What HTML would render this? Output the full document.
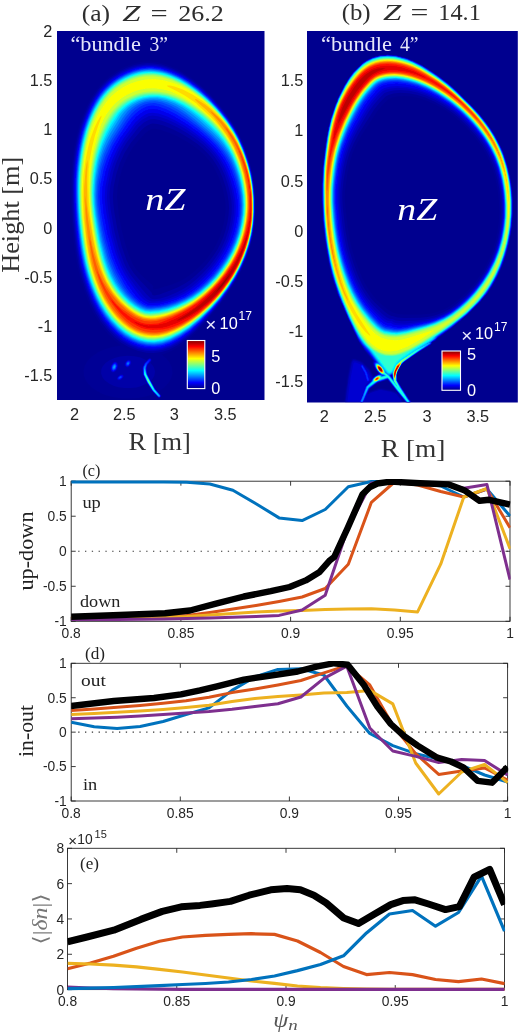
<!DOCTYPE html>
<html lang="en"><head><meta charset="utf-8"><title>figure</title>
<style>html,body{margin:0;padding:0;background:#fff}svg{display:block}</style></head>
<body>
<svg width="520" height="1033" viewBox="0 0 520 1033">
<defs><linearGradient id="jet" x1="0" y1="0" x2="0" y2="1"><stop offset="0.000" stop-color="#800000"/><stop offset="0.062" stop-color="#bf0000"/><stop offset="0.125" stop-color="#ff0000"/><stop offset="0.188" stop-color="#ff4000"/><stop offset="0.250" stop-color="#ff8000"/><stop offset="0.312" stop-color="#ffbf00"/><stop offset="0.375" stop-color="#ffff00"/><stop offset="0.438" stop-color="#bfff40"/><stop offset="0.500" stop-color="#80ff80"/><stop offset="0.562" stop-color="#40ffbf"/><stop offset="0.625" stop-color="#00ffff"/><stop offset="0.688" stop-color="#00bfff"/><stop offset="0.750" stop-color="#0080ff"/><stop offset="0.812" stop-color="#0040ff"/><stop offset="0.875" stop-color="#0000ff"/><stop offset="0.938" stop-color="#0000bf"/><stop offset="1.000" stop-color="#000080"/></linearGradient>
<clipPath id="cA"><rect x="57" y="31" width="207.5" height="369"/></clipPath>
<clipPath id="cB"><rect x="307" y="31" width="210.8" height="371.5"/></clipPath>
<filter id="bl" x="-5%" y="-5%" width="110%" height="110%"><feGaussianBlur stdDeviation="0.7"/></filter>
</defs>
<rect width="520" height="1033" fill="#fff"/>
<rect x="57" y="31" width="207.5" height="369" fill="#00008f"/>
<g clip-path="url(#cA)"><g filter="url(#bl)">
<path fill="#000096" d="M146.1,61.5 150.5,61.4 156.5,62 165.5,64.1 177.5,69 189.5,76.2 199.5,83.9 209.7,93.5 221,106.5 229.9,118.5 236.2,128.5 242.1,140.5 247.1,153.5 251.2,167.5 254.1,182.5 255.1,192.5 255.4,207.5 255.1,220.5 254.1,229.5 252.2,239.5 250.1,247.5 246.1,259.5 242.3,268.5 237.2,278.5 231.9,287.5 224,299.5 217.9,307.5 204.4,323.5 197.5,331.1 190.5,337.7 182.5,344.2 176.5,348.2 169.5,351.8 163.5,354.1 161.6,354.5 166.4,358.5 169.6,362.5 171.8,367.5 172.5,372.5 171.5,377.5 168.9,382.5 164.2,387.5 158.5,391.4 161.4,395.5 161.4,396.5 159.5,398.4 158.5,398.3 153.5,393.9 146.5,396.3 138.5,397.9 130.5,398.6 122.5,398.5 115.5,397.6 108.5,396 102.5,393.9 96.5,390.8 91.8,387.5 87.9,383.5 85.3,379.5 83.9,375.5 83.6,370.5 84.9,365.5 87.9,360.5 92.5,355.9 98.5,352 105.5,349 112.5,347 121.1,345.5 120.5,345.4 120,344.5 114.5,340.2 108.6,334.5 102,326.5 97.3,319.5 92.7,311.5 89.1,303.5 84.9,292.5 81,280.5 77.9,268.5 76,258.5 74,244.5 72.1,225.5 70.9,200.5 70.9,183.5 71.3,172.5 72.1,162.5 73.9,148.5 76.1,137.5 78.9,126.5 82,117.5 86.1,107.5 90.1,99.5 95,91.5 99.6,85.5 105.5,79.5 110.5,75.3 117.5,70.7 124.5,67.1 132.5,64 140.5,62.1ZM151.5,129.1 148.5,130.8 145.5,133.1 137.6,141.5 132.5,148.1 127.5,156.5 122.6,167.5 119.7,177.5 117.5,188.3 117,197.5 118.5,212.5 121.5,229.2 125.4,244.5 129.5,256.7 132.5,263.4 135.5,268.5 140.5,274.3 153.5,286.2 153,287.5 153.5,289.6 158.4,288.5 172.5,284.2 178.5,281.8 183.1,279.5 188.5,275.9 195.3,270.5 204.5,261.4 208.5,256.5 213.5,249.2 216.5,243.9 219.5,237.4 222.5,228.4 224.3,220.5 225.4,212.5 225.6,206.5 225,199.5 223.6,192.5 221.5,185.1 218.5,176.7 213.5,166.6 210.5,162.2 205.5,156.2 199.5,150.5 192.5,145.2 186.7,141.5 177.5,136.5 168.4,132.5 159.5,129.6 154.5,128.7Z"/>
<path fill="#0000a8" d="M142.5,63.5 147.5,63.1 152.5,63.2 161.5,64.6 171.5,67.9 181.5,72.8 192.5,79.9 202.5,88 211.2,96.5 219.1,105.5 226.9,115.5 233,124.5 239.2,135.5 244,146.5 249.1,161.5 252.1,173.5 254,185.5 255.1,199.5 255.1,213.5 254.1,226.5 252.2,237.5 249.9,246.5 245.9,258.5 241.2,269.5 236,279.5 227.9,292.5 220,303.5 206.4,319.5 196.5,330.1 186.5,338.9 177.5,345.3 168.5,349.9 161.5,352.1 153.5,353.1 146.5,352.7 137.5,350.8 128.5,347.1 121.5,342.9 114.5,337.4 107.8,330.5 100.8,321.5 95.9,313.5 90.9,303.5 85.9,290.5 82,278.5 79,266.5 77,255.5 75,240.5 73.1,221.5 72.4,207.5 72.3,178.5 73.1,165.5 74.9,150.5 77.2,138.5 80,127.5 83.8,116.5 88.1,106.5 92.9,97.5 98.3,89.5 103.5,83.5 109.5,78.1 118.5,71.9 126.5,68 134.5,65.1ZM152.5,123.5 150.5,124 147.2,125.5 144.3,127.5 141.1,130.5 131.1,142.5 124.5,153.1 119.7,163.5 116.5,173.5 113.7,186.5 112.9,196.5 113.3,203.5 114.4,212.5 117.5,229.7 121.5,245.7 126.5,260.1 129.5,266.5 133.5,272.8 138.5,278.7 151.5,292.5 152.5,295.1 154.5,295.4 159.4,294.5 169.5,290.8 177.5,287.5 184.9,283.5 189.5,280.4 195.5,275.5 202.5,269 207.5,263.4 213.5,255.5 217.5,249.2 220.5,243.6 223.5,236.5 225.5,230.3 227.5,221.9 228.6,214.5 229,207.5 228.6,201.5 227.5,194.5 225.5,186.5 222.5,177.5 219.5,170.4 216.5,164.9 212.5,159 208.5,154.2 202.8,148.5 197.5,144.1 189.5,138.5 181.1,133.5 173.2,129.5 163.5,125.6 157.5,123.9ZM120.1,356.5 127.5,355.8 134.5,356.3 140.5,357.6 146.5,360.2 149.5,357.7 151,358.5 151.4,359.5 151.4,361.5 150.5,362.5 150.5,363 152.7,365.5 154,367.5 155,371.5 154.4,375.5 153.4,377.5 151.5,380 151.5,381.6 152.4,382.5 152.5,383.6 153.4,384.5 153.5,385.6 154.4,386.5 154.5,387.5 155.5,389 161.2,395.5 161.2,396.5 160.5,397.3 159.5,398.1 158.5,397.8 157.5,397 150.8,389.5 150.5,388.4 148.7,386.5 148.5,385.4 146.5,383.8 141.5,386 136.5,387.4 130.5,388.1 124.5,388.1 118.5,387.2 113.5,385.7 109,383.5 105,380.5 102.6,377.5 101.1,373.5 101.3,369.5 102.6,366.5 105.5,363 109.5,360.2 114.5,358Z"/>
<path fill="#0000bd" d="M146.4,64.5 155.5,64.8 165.5,67 175.5,71 184.5,75.8 193.5,81.9 204.5,91.1 213.8,100.5 223,111.5 231.1,122.5 237.1,132.5 241.9,142.5 246.1,153.5 250.1,166.5 253,180.5 254.1,189.5 254.8,203.5 254.8,211.5 254,224.5 252.1,236.5 248.9,248.5 245.1,259.5 239.2,272.5 233,283.5 225.9,294.5 215.9,307.5 204.3,320.5 194.5,330.4 185.5,338 177.5,343.5 170.5,347.2 162.5,350 153.5,351.2 145.5,350.7 137.5,348.9 128.5,345.1 121.5,340.8 115.5,336 108.2,328.5 102,320.5 95.9,310.5 92,302.5 86.9,289.5 83.1,277.5 79.8,264.5 77,247.5 75,230.5 73.9,216.5 73.3,202.5 73.1,184.5 73.7,171.5 75,157.5 76.9,145.5 79,135.5 82.1,124.5 86.2,113.5 90.8,103.5 96.1,94.5 100.6,88.5 106.5,82.3 113.5,76.7 121.5,71.8 130.5,67.8 137.5,65.8ZM150.5,119.3 147.5,120.4 143.9,122.5 138.5,127.2 126.6,142.5 121.3,151.5 116.3,162.5 113.4,171.5 110.4,185.5 109.6,192.5 109.5,197.5 110.6,209.5 114.5,231.9 118.8,248.5 124.2,263.5 127.2,269.5 130.3,274.5 141.5,288.5 146.7,294.5 150.9,298.5 152.5,299.1 154.5,299.3 160.4,298.5 167,296.5 176.6,292.5 184.2,288.5 190.1,284.5 196.2,279.5 202.5,273.6 209.5,265.9 214.5,259.3 219.5,251.7 222.5,246.1 225.5,239.3 228.5,230.2 230.5,221.5 231.6,213.5 231.8,206.5 231.4,200.5 229.7,191.5 227.6,183.5 224.5,174.6 221.5,167.9 218.5,162.5 214.5,156.8 209.2,150.5 203.5,145 196.5,139.4 187.5,133.2 177.7,127.5 169.3,123.5 161.3,120.5 154.5,119ZM148,359.5 149.5,358.5 150.5,358.7 151.2,359.5 151.2,360.5 147.5,365.1 147,367.5 146.5,368.3 147.4,374.5 148.3,375.5 148.5,376.7 149.3,377.5 150.5,380.6 155.5,389.5 160.9,395.5 160.9,396.5 159.5,397.6 158.5,397.4 151.8,390.5 146.7,382.5 145.5,379.4 144.7,378.5 144.5,377.4 143.7,376.5 143.5,375.3 142.7,374.5 142.7,366.5 143.5,365.4 144,363.5ZM127,360.5 127.5,360 129.5,359.8 130.6,360.5 131.3,362.5 131.2,363.5 130.2,365.5 128.5,367.2 127.5,367.4 126.5,367.3 124.7,365.5 124.8,363.5 125.8,361.5ZM113.1,362.5 114.5,361.7 116.5,361.8 117.9,363.5 118.2,366.5 117.1,369.5 116.3,370.5 114.5,372.2 112.5,372.4 111.1,371.5 110.4,368.5 110.9,365.5ZM119.3,375.5 120.5,374.6 122.5,374.6 123.7,375.5 123.8,376.5 123.3,377.5 121.5,379.3 120.5,380 118.5,380.3 117,379.5 116.8,378.5 117.8,376.5Z"/>
<path fill="#0000d1" d="M145.9,65.5 155.5,65.8 164.5,67.7 173.5,71 183.5,76.1 193.5,82.8 202.5,90.1 211.5,98.8 220,108.5 229.2,120.5 235,129.5 240.2,139.5 244,148.5 248.1,160.5 251,171.5 253.1,182.5 254.4,197.5 254.5,209.5 254.1,221.5 253,230.5 250.1,243.5 245.9,256.5 240.8,268.5 235,279.5 228.1,290.5 220.1,301.5 211.5,311.7 198.5,325.5 188.5,334.4 179.5,341 170.5,345.9 161.5,348.9 153.5,349.9 145.5,349.4 138.5,347.8 130.5,344.7 122.5,339.9 115.5,334.3 109.5,328.2 102.7,319.5 97.1,310.5 92.2,300.5 87.9,289.5 84,277.5 80.9,265.5 78.1,249.5 76.1,233.5 74.8,218.5 74,202.5 73.8,186.5 74.2,174.5 75.2,162.5 77.3,147.5 80,134.5 82.9,124.5 87,113.5 91.8,103.5 95.8,96.5 101.8,88.5 107.5,82.6 114.5,77.1 121.5,72.9 130.5,68.9 137.5,66.8ZM148.5,116.3 142.5,119.5 139.5,121.9 136,125.5 124.5,140.9 118.3,151.5 113.1,163.5 110.4,172.5 107.5,187.5 106.9,198.5 108.6,213.5 112.5,234.5 116.8,250.5 119.5,258.5 122.5,265.8 125.5,271.6 129.5,277.9 136.5,287.5 143,295.5 146,298.5 148.8,300.5 151.5,301.4 154.5,301.5 162.2,300.5 169.1,298.5 176.7,295.5 184.5,291.5 190.6,287.5 196.7,282.5 204.5,275 210.5,268.3 215.7,261.5 220.5,254.3 224.5,247 227.8,239.5 230.5,231.1 232.5,222.5 233.8,213.5 234,205.5 233.3,198.5 231.5,189.6 228.6,179.5 225.9,172.5 223.2,166.5 219.8,160.5 215.5,154.5 210.5,148.7 204.5,142.8 196.5,136.4 186.5,129.5 176.1,123.5 167.5,119.5 159,116.5 152.5,115.5ZM148.4,359.5 149.5,358.8 150.5,359.1 150.9,359.5 150.9,360.5 147.5,364.6 146.5,367.4 146.5,371 147,373.5 150.5,380.9 155.4,389.5 160.6,395.5 160.6,396.5 159.5,397.4 158.5,397.3 152.1,390.5 146.9,382.5 143.1,374.5 142.7,368.5 143.1,366.5 145.3,362.5ZM127.8,360.5 128.5,360.2 129.9,360.5 130.7,361.5 130.7,363.5 129.6,365.5 128.5,366.4 127.5,366.9 126.5,366.8 125.3,365.5 125.3,363.5 126.4,361.5ZM114,362.5 115.5,362 116.5,362.5 117.5,364.5 117.5,366.5 117,368.5 115.7,370.5 113.5,371.9 112.5,371.9 111.1,370.5 110.8,367.5 112,364.5ZM120,375.5 120.5,375.1 122.5,375.1 123,375.5 123.2,376.5 122.9,377.5 121.5,378.9 119.5,379.9 118.5,379.9 117.8,379.5 117.3,378.5 118.5,376.5Z"/>
<path fill="#0000eb" d="M143.5,66.5 151.5,66.2 159.5,67.2 168.5,69.7 178.5,74.1 188.5,80 198.5,87.4 208.5,96.5 217,105.5 225.1,115.5 232.8,126.5 237.9,135.5 242.9,146.5 247.9,160.5 251.1,172.5 253,183.5 254.3,197.5 254.4,211.5 254,220.5 252,234.5 249.9,243.5 246.1,255.5 241.1,267.5 235.8,277.5 229.1,288.5 221.2,299.5 211.1,311.5 199.5,323.7 188.5,333.5 179.5,339.9 170.5,344.9 161.5,347.9 153.5,348.8 145.5,348.3 138.5,346.7 131.5,344 123.5,339.4 116.1,333.5 110.1,327.5 103.8,319.5 98.1,310.5 93.1,300.5 89.1,290.5 85,278.5 81.9,266.5 79,251.5 77.2,237.5 75.7,222.5 74.7,206.5 74.4,188.5 74.7,175.5 75.8,162.5 77.2,151.5 79.9,137.5 82.9,126.5 86.9,115.5 90.9,106.5 96,97.5 101,90.5 106.5,84.6 111.5,80.2 119.5,74.8 127.5,70.9 135.5,68.1ZM148.5,113.3 145.5,114.6 141.5,117 135.3,122.5 123.4,138.5 117.5,148.4 112.3,159.5 108.7,170.5 105.4,186.5 104.7,197.5 105.2,204.5 106.5,214.1 110.6,235.5 115.5,253.3 120.6,266.5 124.1,273.5 127.5,279 134.5,289.1 139.5,295.5 143.5,299.5 146.5,301.6 149.5,302.9 153.5,303.1 160.5,302.4 168.5,300.5 176.7,297.5 184.9,293.5 191.2,289.5 197.5,284.5 204.5,277.8 210.5,271.2 216.5,263.6 221.5,256.1 225.5,249 229.3,240.5 232.5,230.5 234.3,222.5 235.5,214.2 235.8,206.5 235.2,199.5 233.5,190.3 230.5,179.7 227.5,171.6 224.5,165.2 220.5,158.4 216.5,152.9 211.5,147.1 203.5,139.5 194.5,132.5 185.5,126.3 175.5,120.5 166.5,116.3 158.5,113.6 152.5,112.7ZM148.8,359.5 149.5,359 150.5,359.4 150.6,360.5 147.4,364.5 146.5,366.9 146.2,368.5 146.7,373.5 154.5,388.4 160.4,395.5 160.4,396.5 159.5,397.3 158.5,397.2 157.8,396.5 152.3,390.5 147.1,382.5 143.1,373.5 142.9,367.5 144.8,363.5ZM126.8,361.5 128.5,360.5 129.5,360.7 130.3,361.5 130.5,362.5 129.5,365.2 127.5,366.5 126.5,366.3 125.7,365.5 125.5,364.5 126,362.5ZM113.2,363.5 114.5,362.6 115.5,362.5 116.8,363.5 117.3,365.5 117,367.5 116.1,369.5 114.5,371.1 113.5,371.5 112.5,371.3 111.6,370.5 111.1,368.5 111.8,365.5ZM120.5,375.5 121.5,375.2 122.5,375.5 122.9,376.5 122.4,377.5 120.5,379.2 118.5,379.5 117.7,378.5 118,377.5 119.5,376Z"/>
<path fill="#000aff" d="M143.2,67.5 151.5,67.1 160.5,68.3 170.5,71.4 180.5,76.1 191.5,82.9 199.5,89.1 209.5,98.2 218.9,108.5 226.8,118.5 233,127.5 238.1,136.5 243,147.5 247.9,161.5 251,173.5 253.1,185.5 254.1,198.5 254.2,214.5 253.1,226.5 251.2,237.5 249.1,245.5 245,257.5 240.2,268.5 234.9,278.5 227.9,289.5 219.9,300.5 212.2,309.5 200.5,321.7 189.5,331.6 180.5,338.1 171.5,343.2 162.5,346.4 158.5,347.1 153.5,347.6 145.5,347 137.5,345.1 130.5,342.1 123.5,337.9 116.5,332.3 109.9,325.5 103.7,317.5 98.7,309.5 94.1,300.5 88.9,287.5 85,275.5 82.1,263.5 80,252.5 78,237.5 76.1,218.5 75.4,205.5 75.1,190.5 75.4,177.5 76.1,166.5 78,151.5 80,140.5 83.1,128.5 86.9,117.5 90.8,108.5 95.1,100.5 99.8,93.5 105.8,86.5 111.5,81.4 119.5,75.9 127.5,71.9 135.5,69.1ZM148.5,109.4 144.5,111.1 140.5,113.5 136.7,116.5 133.5,119.7 120.5,137.8 114.8,147.5 109.5,159.2 105.6,171.5 102.6,186.5 102,197.5 103.5,212.6 107.5,234.1 112.5,252.6 115.5,261.2 118.5,268.2 122.2,275.5 127.5,284.3 132.4,291.5 136.5,296.5 140.7,300.5 145.3,303.5 148.5,304.7 152.5,304.9 160.5,304.2 167.9,302.5 176.7,299.5 185.3,295.5 191.8,291.5 198.4,286.5 204.9,280.5 211.5,273.5 217.5,265.9 222.5,258.6 226.5,251.6 230.5,243.1 233.5,234.7 236.3,223.5 237.5,215.5 237.9,206.5 237.3,198.5 235.5,189 233.1,180.5 229.5,170.5 226.5,164.1 222.6,157.5 217.5,150.5 213.5,145.9 207,139.5 197.4,131.5 187.5,124.4 177.5,118.2 168.4,113.5 159.5,110.1 153.5,108.9ZM149.3,359.5 149.8,359.5 150.1,360.5 147.1,364.5 146.1,367.5 146.4,373.5 154.5,388.7 160.3,395.5 160.3,396.5 159.5,397.2 158,396.5 153.2,391.5 151.8,389.5 146.8,381.5 143.6,374.5 143.2,367.5 145,363.5ZM127.3,361.5 128.5,360.9 129.5,361.2 130.1,362.5 129.5,364.6 128.5,365.7 127.5,366.1 126.5,365.8 125.9,364.5 126.4,362.5ZM113.9,363.5 115.5,363.1 116,363.5 116.7,364.5 116.9,366.5 115.6,369.5 113.5,370.9 112.5,370.7 111.7,369.5 111.6,367.5 112.2,365.5ZM119.3,376.5 121.5,375.7 122.4,376.5 121.5,378.1 119.5,379.1 118.2,378.5 118.4,377.5Z"/>
<path fill="#0029ff" d="M141.9,68.5 151.5,67.9 160.5,69.1 170.5,72.2 180.5,76.8 189.5,82.3 199.5,89.8 209.5,98.9 219.2,109.5 227.9,120.5 233.8,129.5 239.2,139.5 243.9,150.5 248,162.5 251,174.5 253,186.5 254,198.5 254.1,212.5 253.2,224.5 252,232.5 249.2,244.5 245.2,256.5 240.9,266.5 235.2,277.5 228.9,287.5 221,298.5 213.4,307.5 200.5,321 189.5,330.7 180.5,337.1 174.5,340.6 169.5,343 161.5,345.5 154.5,346.5 146.5,346.1 138.5,344.3 130.5,341 124.5,337.4 117.5,331.9 111.2,325.5 104.8,317.5 99.1,308.5 94.1,298.5 90.1,288.5 86.1,276.5 83,264.5 80.9,253.5 79,240.5 77.1,222.5 76.1,208.5 75.7,192.5 75.9,178.5 76.8,165.5 78.1,154.5 80,143.5 82.9,131.5 86.1,121.5 91.1,109.5 95.3,101.5 100.5,93.7 105.5,87.9 111.5,82.3 119.5,76.8 126.5,73.2 134.5,70.2ZM147.5,106.3 143.5,108 139.4,110.5 135.5,113.6 131.7,117.5 128.5,121.6 117.8,137.5 112.5,146.6 107.1,158.5 103.5,169.8 100.5,184.6 99.8,191.5 99.7,197.5 100.3,205.5 101.5,214.7 103.6,226.5 106.5,239.8 111.5,256.9 117.5,271.4 126.5,287.4 130.1,292.5 134.5,297.5 139,301.5 143.7,304.5 147.5,306 151.5,306.3 160.4,305.5 166.5,304.2 175.1,301.5 184.5,297.4 191.3,293.5 198.2,288.5 205.5,282 212.5,274.7 218.5,267.2 224.5,258.2 228.5,251 232.5,242.1 235.5,233.2 237.5,225.2 239.1,214.5 239.5,205.5 238.9,197.5 237.5,189.5 234.5,178.4 231.5,170.2 228.4,163.5 224.5,156.7 219.5,149.8 215,144.5 207.5,137.2 196.5,128.1 186.1,120.5 176.5,114.5 166.7,109.5 158.5,106.5 152.5,105.6ZM149.2,360.5 149.5,360.3 149.6,360.5 149.5,360.6ZM128.1,361.5 128.5,361.3 129.5,361.9 129.7,363.5 128.5,365.2 127.5,365.7 126.5,365.1 126.3,363.5 126.8,362.5ZM147.5,361.5 148.5,360.7 148.9,361.5 146.8,364.5 145.9,367.5 146.3,373.5 154.5,388.9 160.1,395.5 160.1,396.5 159.5,397.1 158.2,396.5 152,389.5 147,381.5 143.7,374.5 143.4,367.5 145.3,363.5ZM113.3,364.5 114.5,363.7 115.5,363.7 116.5,365.5 115.9,368.5 114.5,370.1 113.5,370.4 112.5,370 111.9,368.5 112.1,366.5ZM119.8,376.5 121.5,376.1 121.9,376.5 121.5,377.7 119.5,378.8 118.8,378.5 118.8,377.5Z"/>
<path fill="#0047ff" d="M140.3,69.5 149.5,68.6 158.5,69.4 167.5,71.8 177.5,75.9 187.5,81.6 197.5,88.8 207.5,97.5 216.5,106.9 226,118.5 232.9,128.5 238,137.5 242.9,148.5 248.1,163.5 250.9,174.5 253,187.5 253.8,198.5 253.9,211.5 253,224.5 251,236.5 249,244.5 245,256.5 240.2,267.5 234.9,277.5 227.9,288.5 219.8,299.5 211.5,309 198.5,322.2 189.5,329.9 179.5,336.9 169.5,342.1 162.5,344.4 154.5,345.6 147.5,345.3 139.5,343.7 132.5,341 125.5,337 118.5,331.7 111.5,324.7 105,316.5 99.9,308.5 95.8,300.5 91.2,289.5 87,277.5 84.1,266.5 82,256.5 80,243.5 78,226.5 76.8,210.5 76.3,195.5 76.3,181.5 77,169.5 78.3,157.5 80.2,145.5 82.9,133.5 86,123.5 89.9,113.5 94.3,104.5 98.6,97.5 103.9,90.5 109.5,84.9 115.5,80.2 124.5,74.9 131.5,71.9ZM148.5,103.4 144.7,104.5 140.5,106.5 135.5,110 131.5,113.7 126.3,120.5 114.5,138.5 111.5,143.8 105.5,156.6 101.5,169.1 98.5,185.5 98,196.5 98.5,205.2 99.7,214.5 101.5,225.5 104.5,239.6 109.5,257.1 115.5,271.8 123.5,286.5 127.8,292.5 132.3,297.5 138,302.5 142.8,305.5 147.5,307.2 151.5,307.4 159.5,306.7 166.5,305.3 175.4,302.5 184.6,298.5 191.6,294.5 198.6,289.5 206.5,282.5 213.5,275.2 219.5,267.7 225.5,258.7 229.5,251.5 233.5,242.5 236.5,233.7 238.5,225.7 240.2,214.5 240.6,205.5 240.1,197.5 238.5,187.6 236.5,179.6 233.5,170.7 230.5,163.8 227.5,158.2 222.5,150.7 217.4,144.5 209.5,136.5 198.5,127.1 188.5,119.4 177.5,112.1 168.9,107.5 161.3,104.5 154.5,103.1ZM127.2,362.5 128.5,361.8 129.4,362.5 129.4,363.5 128.8,364.5 127.5,365.2 126.6,364.5 126.6,363.5ZM147.1,362.5 147.5,362.2 147.7,362.5 147.5,362.8ZM145.8,363.5 146.5,362.9 147,363.5 146.2,365.5 145.6,368.5 146.5,374.2 154.5,389.1 160,395.5 160,396.5 159.5,396.9 158.4,396.5 152.8,390.5 147.1,381.5 143.9,374.5 143.7,367.5ZM113.9,364.5 114.5,364.1 115.5,364.3 116.1,365.5 116.2,366.5 115.5,368.5 114.5,369.6 113.5,369.9 112.5,369.2 112.2,367.5 112.9,365.5ZM120.4,376.5 120.9,376.5 121.2,377.5 119.5,378.2 119.2,377.5Z"/>
<path fill="#0066ff" d="M144.6,69.5 152.5,69.3 162.5,70.9 171.5,73.9 182.5,79.2 191.5,84.9 201.5,92.6 211.5,102 220.9,112.5 227.9,121.5 233.9,130.5 239.2,140.5 243.9,151.5 247.9,163.5 251.1,176.5 252.9,188.5 253.8,201.5 253.7,212.5 252.9,224.5 251.1,235.5 247.9,247.5 244,258.5 239,269.5 234.1,278.5 227,289.5 220.3,298.5 210.5,309.6 198.5,321.6 189.5,329.2 179.5,336.1 170.5,340.9 161.5,343.8 153.5,344.8 145.5,344.2 137.5,342.2 130.5,339.1 123.5,334.7 116.5,328.8 109.7,321.5 103.8,313.5 99,305.5 94.2,295.5 90,284.5 87,275.5 83.9,263.5 81.3,249.5 79.1,232.5 77.8,218.5 76.9,203.5 76.7,188.5 77,175.5 78.1,162.5 80,149.5 82.2,138.5 84.9,128.5 88,119.5 92.8,108.5 97.3,100.5 102.2,93.5 107.5,87.6 113.5,82.4 120.5,77.7 128.5,73.8 136.5,71ZM149.5,101.4 144.5,102.5 139.7,104.5 134.9,107.5 131.3,110.5 125.5,117.4 111.5,139.5 107.5,147.1 104.5,153.8 100.5,165.9 97.6,181.5 96.7,195.5 97.2,204.5 98.5,215.5 102.5,237.6 107.6,256.5 110.5,264.6 114.5,273.7 118.5,281.3 122.5,287.8 126.8,293.5 131.5,298.5 137.5,303.5 142.5,306.5 146.5,308 150.5,308.4 158.5,307.8 165.5,306.5 175.2,303.5 184.5,299.5 191.6,295.5 198.6,290.5 205.6,284.5 213.5,276.5 220.5,267.7 225.5,260.3 230.5,251.3 234.5,242.2 237.5,233.2 239.5,224.9 241.1,214.5 241.5,205.5 240.9,196.5 239.5,187.2 237.5,178.9 234.5,169.6 231.5,162.5 227.5,155.2 222.5,148 217.9,142.5 209.9,134.5 195.5,122.2 186.5,115.3 177.7,109.5 170.2,105.5 162.3,102.5 155.5,101.3ZM127.7,362.5 128.5,362.2 129,363.5 128.5,364.4 127.5,364.8 127,363.5ZM146.5,363.5 146.5,363.5 146.5,363.5ZM145.4,364.5 145.8,364.5 145.9,365.5 145.4,368.5 146.5,374.5 154.5,389.4 159.8,395.5 159.5,396.8 158.5,396.4 152.9,390.5 147.8,382.5 144,374.5 143.7,368.5ZM113.3,365.5 114.5,364.6 115.5,365 115.8,366.5 115,368.5 113.5,369.4 112.7,368.5 112.6,367.5ZM120.1,377.5 120.5,377.3 120.6,377.5 120.5,377.6Z"/>
<path fill="#008aff" d="M141.7,70.5 150.5,69.8 159.5,70.8 168.5,73.3 178.5,77.6 187.5,82.8 197.5,89.9 207.5,98.5 216.2,107.5 225.3,118.5 231.7,127.5 237,136.5 242.1,147.5 246.8,160.5 249.9,171.5 252,182.5 253.4,196.5 253.7,209.5 253,222.5 251.1,234.5 248.9,243.5 245,255.5 240.8,265.5 235,276.5 228.1,287.5 219.9,298.5 211.5,308.1 199.5,320.1 189.5,328.6 180.5,334.8 170.5,340.1 162.5,342.9 154.5,344 147.5,343.8 139.5,342.1 132.5,339.3 125.5,335.2 118.5,329.7 111.5,322.6 105.9,315.5 100.2,306.5 96.2,298.5 91.3,286.5 87.9,276.5 84.9,265.5 82.3,252.5 80.2,237.5 78.6,223.5 77.6,208.5 77.2,193.5 77.3,179.5 78.1,167.5 79.8,153.5 82.2,140.5 84.8,130.5 88.1,120.5 91.9,111.5 96.1,103.5 100.6,96.5 105.5,90.4 111.5,84.7 117.5,80.2 125.5,75.8 133.5,72.5ZM146.5,100.5 140.5,102.4 136.2,104.5 131.7,107.5 127.4,111.5 122.5,118.1 111.5,135.6 107.5,142.9 104.5,149.4 101.8,156.5 98.5,168.8 96.4,182.5 95.8,196.5 96.4,206.5 97.5,215.6 99.5,228.2 102.5,242.8 107.5,260.3 113.5,274.9 117.5,282.4 121.5,288.6 126.1,294.5 131.1,299.5 137.3,304.5 142.5,307.5 146.5,308.9 151.5,309.3 160.5,308.3 168.5,306.5 177.2,303.5 186,299.5 192.9,295.5 199.8,290.5 207.5,283.7 214.5,276.4 221.5,267.5 226.5,259.9 231.5,250.8 235.5,241.4 238.5,232 240.5,223.2 241.8,213.5 242.1,203.5 241.5,194.7 239.5,183.2 237.5,175.5 234.5,166.7 231.5,159.8 227.5,152.6 223.5,146.8 218.2,140.5 210.5,132.8 194.5,118.9 184.6,111.5 176.6,106.5 167.8,102.5 160.7,100.5 153.5,99.8ZM127.4,363.5 128.5,363.1 128.6,363.5 127.5,363.9ZM113.9,365.5 114.5,365.1 115.2,365.5 115.5,366.5 114.6,368.5 113.5,368.8 113,367.5ZM145.4,365.5 145.5,365.2 145.1,368.5 146.4,374.5 154.4,389.5 159.7,395.5 159.5,396.6 158.5,396.2 153,390.5 147.9,382.5 144.1,374.5 144,368.5 144.5,366.5Z"/>
<path fill="#00b3ff" d="M140.4,71.5 148.5,70.6 157.5,71.2 166.5,73.3 176.5,77.3 186.5,82.8 196.5,89.8 206.5,98.2 215.7,107.5 225,118.5 230.7,126.5 236.7,136.5 241.9,147.5 246,158.5 249.9,172.5 252,183.5 253.2,195.5 253.5,207.5 253,220.5 251.9,229.5 249,242.5 245.9,252.5 241,264.5 235.9,274.5 229.1,285.5 221.1,296.5 212.5,306.5 201.5,317.6 189.5,327.8 179.5,334.6 170.5,339.3 162.5,342 154.5,343.1 147.5,342.8 139.5,341.1 132.5,338.3 125.5,334.2 118.5,328.6 111.6,321.5 106.2,314.5 101.1,306.5 96.9,298.5 92.3,287.5 88.8,277.5 85.8,266.5 83.1,253.5 81.1,240.5 79.1,222.5 78.2,209.5 77.7,193.5 77.8,179.5 78.6,167.5 80.1,155.5 82.1,143.5 84.8,132.5 88,122.5 91.7,113.5 95.7,105.5 100.5,97.8 105.5,91.5 111.5,85.6 117.5,81.1 124.5,77.1 132.5,73.7ZM150.5,98.5 144.4,99.5 138.4,101.5 132.7,104.5 128.5,107.5 124.5,111.4 121.5,115.2 110.5,132.8 106.8,139.5 103.5,146.9 99,160.5 96.1,175.5 95.2,184.5 94.8,193.5 95.2,204.5 96.5,216 100.5,239.4 105.5,258.6 108.5,267.2 111.5,274.2 115.5,281.9 119.5,288.1 124.5,294.5 129.3,299.5 135.4,304.5 140.5,307.7 145.5,309.7 150.5,310.3 159.5,309.5 168.5,307.5 177.1,304.5 185.9,300.5 192.8,296.5 200.5,290.9 207.7,284.5 214.5,277.5 220.5,270.1 226.5,261.3 231.5,252.4 235.5,243.4 238.5,234.7 240.6,226.5 242.5,214.5 242.9,205.5 242.5,196.6 241.5,188.9 239.5,179.2 236.5,169 233.5,161.3 229.5,153.3 224.5,145.4 219.5,139.1 212.5,131.9 197.6,118.5 190,112.5 182.5,107.5 175,103.5 166.5,100.3 157.5,98.5ZM113.9,366.5 114.5,366.1 114.8,366.5 114.5,367.7 113.5,367.6ZM144.4,367.5 146.2,374.5 149.3,380.5 154.2,389.5 159.4,395.5 158.5,395.9 153.5,390.9 148,382.5 144.3,374.5Z"/>
<path fill="#00dbff" d="M145.3,71.5 153.5,71.4 163.5,73.1 172.5,76.2 181.5,80.5 191.5,86.7 201.5,94.4 211.5,103.6 220.5,113.5 227.6,122.5 234.2,132.5 239,141.5 244,153.5 248,165.5 250.8,177.5 252.7,190.5 253.3,200.5 253.3,212.5 252.7,222.5 251,233.5 248,245.5 243.8,257.5 238.9,268.5 233.9,277.5 226.8,288.5 219.2,298.5 209.5,309.2 198.5,319.7 188.5,327.9 179.5,333.8 169.5,338.9 161.5,341.3 153.5,342.3 145.5,341.7 138.5,339.9 131.5,336.9 124.5,332.5 117.5,326.6 110.9,319.5 105,311.5 99.7,302.5 95,292.5 91.1,282.5 88,272.5 85,260.5 82.7,247.5 80.2,228.5 79,214.5 78.3,200.5 78.2,185.5 78.7,173.5 79.9,160.5 81.7,148.5 84.1,137.5 86.9,127.5 90.6,117.5 94.7,108.5 99.4,100.5 103.7,94.5 109.3,88.5 115.5,83.3 122.5,78.9 130.5,75.1 138.5,72.6ZM149.5,97.4 143.4,98.5 137.4,100.5 131.5,103.5 127.3,106.5 123,110.5 119.5,114.6 109.5,130.7 105.5,138.4 102.5,145.4 99.5,154.2 97.5,161.8 94.8,178.5 94,194.5 94.4,204.5 95.5,214.9 99.5,239.3 104.5,259.1 107.5,267.7 111.5,276.9 115.5,284.1 119.8,290.5 124.9,296.5 130.1,301.5 135.1,305.5 140.5,308.7 145.5,310.7 150.5,311.2 158.9,310.5 168,308.5 176.7,305.5 185.5,301.5 192.5,297.5 200.8,291.5 208.5,284.7 215.5,277.4 222.5,268.5 227.5,260.9 232.5,251.8 236.5,242.5 239.5,233.4 241.5,225 243.1,214.5 243.5,204.5 242.9,194.5 241.5,185 239.5,176.1 236.5,166.4 232.5,156.9 228.5,149.4 223.5,141.9 218.5,135.7 210.5,127.5 199.3,117.5 190.1,110.5 182.2,105.5 174,101.5 164.8,98.5 157.5,97.3ZM144.4,369.5 144.5,368.9 146,374.5 154,389.5 158.1,394.5 157.5,394.7 153.5,390.7 148.2,382.5 144.4,374.5ZM158.3,395.5 158.5,395 158.9,395.5Z"/>
<path fill="#05fffa" d="M142.9,72.5 151.5,72 160.5,73.1 170.5,76.1 179.5,80.1 189.5,86 200.5,94.1 209.5,102.1 218.5,111.6 225.8,120.5 232.7,130.5 237.8,139.5 242.7,150.5 246.9,162.5 249.8,173.5 252,185.5 253.1,198.5 253.2,210.5 252.6,221.5 250.9,233.5 248.1,244.5 244.8,254.5 240.1,265.5 234.9,275.5 227.9,286.5 218.8,298.5 210.5,307.7 198.5,319.2 188.5,327.2 179.5,333.1 170.5,337.7 162.5,340.3 154.5,341.5 147.5,341.2 140.5,339.7 132.5,336.5 125.5,332.3 119.5,327.5 111.8,319.5 106.5,312.5 100.9,303.5 96.9,295.5 92.1,283.5 88.8,273.5 86,262.5 83.4,248.5 81.3,233.5 79.8,218.5 79,205.5 78.7,190.5 78.9,177.5 79.9,165.5 81.6,152.5 83.7,141.5 86.2,131.5 89.6,121.5 93.9,111.5 98.5,103 103,96.5 107.5,91.2 113.5,85.7 120.5,80.8 127.5,77.2 135.5,74.2ZM149.5,96.4 143.1,97.5 136.9,99.5 130.9,102.5 126.5,105.5 122,109.5 118.4,113.5 110.5,125.7 106.5,133 102.5,142 99.5,150.5 97.5,157.6 95.5,167.1 94.5,174 93.5,184.8 93.2,193.5 93.5,201.7 94.5,212.7 96.5,227.2 98.5,238.5 100.5,247.7 103.5,258.9 106.5,267.8 110.5,277.1 114.5,284.4 118.7,290.5 123.5,296.3 128.7,301.5 134.5,306.1 140.5,309.7 145.5,311.6 150.5,312.1 158.5,311.4 167.3,309.5 176.5,306.4 186.5,301.8 193.7,297.5 200.6,292.5 208.5,285.5 215.5,278.2 222.5,269.4 227.5,261.9 232.5,253 236.5,244 239.5,235.3 242.5,222.6 243.7,213.5 244,204.5 243.5,194.4 241.8,183.5 239.5,173.6 236.5,164.4 232.5,155 228.5,147.6 223.5,140.1 218.5,133.8 210.5,125.5 200.4,116.5 192.5,110.5 182.9,104.5 174.6,100.5 165.2,97.5 157.5,96.3ZM144.5,371.5 144.5,371.2 145.9,374.5 153.5,388.6 153.8,389.5 153.5,390.4 147.3,380.5 144.5,374ZM153.7,390.5 154.5,390.3 155.5,391.5 155.6,392.5Z"/>
<path fill="#2effd1" d="M141.2,73.5 150.5,72.7 158.5,73.4 168.5,76 178.5,80.2 188.5,85.9 198.5,93.1 208.5,101.7 217.5,111 225.5,120.6 231.8,129.5 237,138.5 242.1,149.5 246.7,162.5 249.9,174.5 251.8,185.5 252.9,197.5 253.1,212.5 252.3,223.5 250.9,232.5 248,244.5 243.9,256.5 239.9,265.5 234.1,276.5 227.6,286.5 220.1,296.5 211.5,306.2 200.5,316.9 189.5,325.9 179.5,332.4 170.5,337 162.5,339.6 154.5,340.7 147.5,340.4 140.5,339 133.5,336.2 126.5,332.1 120.5,327.4 113.5,320.4 107.3,312.5 101.6,303.5 97.1,294.5 93.1,284.5 89.4,273.5 86.8,263.5 84.2,250.5 82.2,236.5 80.5,221.5 79.5,207.5 79.1,192.5 79.3,179.5 80.1,168.5 81.5,156.5 83.5,144.8 86.2,133.5 89.5,123.3 93.5,113.6 97.5,105.9 102.2,98.5 107.5,92.1 112.5,87.4 119.1,82.5 126.2,78.5 133.6,75.5ZM149.5,95.5 143.5,96.4 137.5,98.2 132.3,100.5 126.5,104.1 122.3,107.5 117.6,112.5 113.5,118.1 109.6,124.5 105.5,132.2 101.9,140.5 98.5,150.5 96.5,158 94.6,167.5 93.5,176.3 92.6,193.5 93.1,204.5 94.4,217.5 98.5,242 103.5,261.6 106.5,270.1 109.5,277 113.5,284.4 117.6,290.5 122.5,296.5 128.5,302.4 134.5,307.1 140.3,310.5 145.5,312.4 150.5,312.9 158.5,312.2 166.5,310.5 175.5,307.5 186.5,302.5 194.5,297.7 201.5,292.4 209.5,285.3 216.5,277.8 222.5,270.3 228.5,261.2 233.5,252 237.5,242.7 240.5,233.6 242.6,224.5 244.1,214.5 244.6,204.5 244,194.5 242.5,184.1 240.5,175.1 237.5,165.3 233.5,155.5 229.5,147.8 224.5,140 218.5,132.3 211.5,124.9 202.2,116.5 193,109.5 183.2,103.5 174.8,99.5 165.5,96.6 157.5,95.4ZM145.1,374.5 145.5,373.9 146,375.5 151.7,385.5 152,386.5 151.5,387.1 148.5,382.5ZM152.1,387.5 152.5,387.1 152.8,388.5 152.5,388.6ZM153.3,389.5 153.5,389.1 153.5,389.9Z"/>
<path fill="#57ffa8" d="M146.9,73.5 155.5,73.7 164.5,75.4 173.5,78.6 183.4,83.5 192.9,89.5 203.2,97.5 212.5,106.1 221.9,116.5 228.5,125.1 234.6,134.5 239.7,144.5 243.9,154.5 247.8,166.5 250.8,179.5 252.1,188.5 253,201.5 252.9,214.5 251.9,225.5 249.9,236.5 246.9,247.5 242.9,258.5 237.8,269.5 232,279.5 226,288.5 218.1,298.5 209.5,307.8 200.5,316.4 189.5,325.3 179.5,331.8 170.5,336.2 162.5,338.9 153.5,340 145.5,339.4 138.5,337.5 131.5,334.4 124.5,329.8 118.4,324.5 111.5,317 106,309.5 100.7,300.5 96.4,291.5 92.5,281.5 89.4,271.5 86.4,259.5 83.9,245.5 81.6,227.5 80.4,213.5 79.7,198.5 79.7,184.5 80.2,172.5 81.5,160.1 83.5,147.5 85.5,138.3 88.5,127.8 92.4,117.5 96.5,108.9 100.5,102.1 105.5,95.4 111.1,89.5 117.3,84.5 124.5,80.2 132.5,76.6 139.9,74.5ZM151.5,94.4 144.5,95.3 138.5,96.8 132.5,99.3 127.5,102.1 122.9,105.5 118.5,109.7 114.5,114.5 110.5,120.5 106,128.5 102.5,136.2 99.4,144.5 96.5,154.5 94.6,163.5 93.3,171.5 92.4,181.5 92,191.5 92.3,202.5 93.5,215.2 97.5,240.5 99.7,250.5 102.5,260.8 105.5,269.6 108.5,276.7 112.5,284.3 116.7,290.5 121.5,296.5 127.5,302.5 133.5,307.3 139.5,310.9 145.5,313.2 150.5,313.7 158.5,313 167.5,310.9 177.2,307.5 185.8,303.5 194.2,298.5 201,293.5 208.9,286.5 216.5,278.6 222.5,271 228.5,262.1 233.5,253.1 237.5,244 240.5,235.2 243.1,224.5 244.5,214.8 245,205.5 244.7,196.5 243.5,187 241.5,177 238.5,166.5 234.5,156.3 230.5,148.3 225.5,140.1 219.5,132.1 211.5,123.5 202.6,115.5 193.2,108.5 184.5,103.1 175.5,98.8 167.5,96.1 159.5,94.7ZM145.5,374.5 145.6,375.5 145.5,375.7 145.4,375.5ZM146.2,376.5 146.5,376.3 146.9,377.5 146.5,377.9ZM147,378.5 147.5,378.1 150.3,383.5 149.5,383.8 147.5,380.2ZM150.1,384.5 150.5,383.6 150.8,384.5 150.5,385.3ZM151.2,385.5 151.5,385.5 151.5,386.7 151.4,386.5ZM152.4,387.5 152.5,387.5 152.5,387.7Z"/>
<path fill="#80ff80" d="M144.6,74.5 153.5,74.3 161.9,75.5 171.6,78.5 182.2,83.5 193.5,90.5 202.5,97.4 212.5,106.6 220.5,115.3 227.5,124.1 233.5,133.1 238.6,142.5 243.7,154.5 247.6,166.5 250,176.5 251.8,187.5 252.8,200.5 252.9,212.5 251.9,224.5 250,235.5 247.7,244.5 243.9,255.5 239.1,266.5 233.6,276.5 227.1,286.5 219.5,296.5 210.5,306.4 200.5,315.9 189.5,324.7 179.5,331.1 170.5,335.5 162.5,338.1 154.5,339.3 147.5,339 140.5,337.4 133.5,334.6 126.5,330.4 119.3,324.5 112.7,317.5 106.7,309.5 101.9,301.5 97,291.5 93.1,281.5 89.9,271.5 87.1,260.5 84.6,246.5 82.5,231 81.2,217.5 80.3,203.5 80.1,188.5 80.5,176.5 81.5,164.4 83.3,151.5 85.5,140.7 88.5,129.7 91.5,121.3 95.5,112.2 99.5,104.9 103.9,98.5 109,92.5 114.5,87.5 121.8,82.5 129.8,78.5 137.5,75.9ZM152.5,93.5 145.5,94.1 139.5,95.5 133.5,97.7 127.5,100.9 122.5,104.4 118.1,108.5 113.8,113.5 109.7,119.5 105.5,127.1 102.1,134.5 99.1,142.5 96.2,152.5 94.4,160.5 92.8,170.5 91.8,180.5 91.4,190.5 91.6,200.5 92.5,211.5 94.3,225.5 96.5,238.6 99,250.5 101.5,259.8 104.7,269.5 108.5,278.4 112.5,285.6 117.2,292.5 122.4,298.5 128.5,304.3 134.5,308.9 139.5,311.8 144.5,313.7 150.5,314.4 158.5,313.7 167.5,311.7 177.5,308.1 186.5,303.8 194.5,298.9 201.8,293.5 209.5,286.6 216.5,279.2 222.5,271.8 228.5,262.9 233.5,254 237.5,245.1 240.8,235.5 243.5,224.5 244.9,214.5 245.4,205.5 245,195.5 243.6,184.5 241.5,175 238.5,164.9 234.5,154.9 230.5,147 225.5,138.9 219.5,130.9 212.5,123.3 204,115.5 194.7,108.5 185.5,102.6 176.5,98.2 168.5,95.5 160.5,93.9ZM147.4,378.5 147.7,379.5 147.5,379.8 147.4,379.5ZM148.2,380.5 148.5,380.2 148.9,381.5 148.5,381.9ZM149.1,382.5 149.5,382.2 149.7,383.5 149.5,383.5ZM150.4,384.5 150.5,384.2 150.5,384.8Z"/>
<path fill="#a8ff57" d="M143.9,75.5 152.5,75.1 161.5,76.3 172.1,79.5 180.8,83.5 189.5,88.5 200.6,96.5 210.5,105.2 219.5,114.6 227.5,124.5 233.5,133.5 238.5,142.8 242.7,152.5 246.6,163.5 249.7,175.5 251.7,187.5 252.7,200.5 252.7,212.5 251.9,223.5 249.9,235.5 247.5,244.5 243.8,255.5 238.9,266.5 233.5,276.4 226.9,286.5 219.5,296.2 210.5,306 199.5,316.3 189.5,324.2 180.5,329.9 170.5,334.9 162.5,337.4 154.5,338.5 147.5,338.2 139.9,336.5 132.9,333.5 126.5,329.5 120.3,324.5 113.5,317.4 107.5,309.6 102.5,301.4 97.6,291.5 93.5,281 90.4,271.5 87.5,259.7 85.4,248.5 83.4,234.5 81.6,216.5 80.9,204.5 80.6,190.5 80.9,178.5 81.6,168.5 83.5,154 85.5,143.4 88.5,131.8 91.5,123.1 95.5,113.8 99.5,106.3 104.5,98.9 109.5,93.2 114.6,88.5 120.2,84.5 127.5,80.5 135.2,77.5ZM152.5,92.5 146.5,92.9 140.5,94.1 134.5,96.1 127.5,99.6 122.5,103 117.4,107.5 113.1,112.5 108.9,118.5 105,125.5 101,134.5 98.1,142.5 95.3,152.5 93.2,162.5 92,170.5 91.1,180.5 90.8,190.5 91,200.5 92,212.5 93.7,225.5 96.2,240.5 98.5,251 101.5,262 104.4,270.5 107.8,278.5 112.2,286.5 116.4,292.5 121.5,298.6 127.6,304.5 133.5,309 139.5,312.6 144.8,314.5 150.5,315.2 158.5,314.5 167.5,312.4 177.5,308.7 186.5,304.4 194.5,299.5 202.5,293.5 210.2,286.5 216.8,279.5 223.5,271.1 229.5,262.1 234.5,252.9 238.5,243.7 241.5,234.5 243.7,225.5 245.2,215.5 245.8,205.5 245.4,195.5 244,184.5 241.6,173.5 238.5,163.5 234.5,153.6 230.5,145.8 225.5,137.8 219.5,129.8 211.9,121.5 203.5,114 194.5,107.3 184.5,101 175.5,96.8 167.5,94.2 159.5,92.8ZM148.5,381.5 148.5,380.9 148.6,381.5ZM149.5,382.5 149.5,382.5 149.5,382.5Z"/>
<path fill="#d1ff2e" d="M145.5,76.5 154.5,76.4 162.4,77.5 172.2,80.5 181,84.5 191.3,90.5 202.3,98.5 211.5,106.7 220.5,116.3 227.5,125 233.5,134 238.5,143.3 243.5,155 247.5,167.2 249.8,176.5 251.6,187.5 252.6,200.5 252.6,212.5 251.8,223.5 249.8,235.5 247.5,244.2 243.6,255.5 238.7,266.5 233.5,276.1 226.7,286.5 219.5,295.8 210.5,305.6 199.5,315.8 189.5,323.6 180.5,329.3 170.5,334.2 162.5,336.7 154.5,337.8 147.5,337.5 140.5,335.9 133.5,333 126.5,328.7 119.5,322.8 113.5,316.4 107.5,308.5 102.5,300.2 98.3,291.5 94.5,282.1 91.5,273.2 88.4,261.5 85.5,245.7 83.5,230.7 82.2,217.5 81.4,203.5 81.2,190.5 81.5,177.7 82.5,165.9 84.5,152 86.5,142.1 89.5,131.1 92.5,122.7 96.5,113.7 100.5,106.4 105.5,99.3 110.5,93.6 116.4,88.5 122.3,84.5 130.4,80.5 139.7,77.5ZM148.5,91.4 143.5,92 136.5,93.9 129.5,96.9 124.5,99.8 119.5,103.6 113.7,109.5 109.8,114.5 106.1,120.5 102.2,128.5 99,136.5 94.1,153.5 92.2,163.5 91.1,172.5 90.3,183.5 90.1,193.5 90.7,205.5 91.9,217.5 96.2,243.5 98.5,253.5 101.3,263.5 104.5,272.5 108,280.5 112,287.5 117.1,294.5 122.5,300.7 128.9,306.5 134.5,310.6 140.5,313.8 145.5,315.4 151.5,315.9 159.5,315 168.5,312.7 178.5,308.9 187.5,304.4 195.5,299.5 203.5,293.3 211.5,285.9 218.5,278.2 224.5,270.4 230.5,261.2 235.1,252.5 239,243.5 242.2,233.5 244.5,223.5 245.8,213.5 246.2,203.5 245.7,193.5 244.1,182.5 241.5,171.5 238.3,161.5 234.5,152.4 229.5,142.9 223.5,133.8 217.5,126.3 210.5,119.1 201.5,111.3 191.5,104.1 182.5,98.8 174.5,95.2 166.5,92.8 156.5,91.3Z"/>
<path fill="#faff05" d="M145.6,79.5 154.5,79.1 163.5,80.2 173.5,82.9 182.2,86.5 192.8,92.5 202.5,99.4 211.5,107.4 220.5,116.8 227.5,125.5 233.5,134.5 238.5,143.7 243.5,155.5 246.6,164.5 249.6,176.5 251.6,188.5 252.5,201.5 252.5,212.5 251.5,224.5 249.6,235.5 246.7,246.5 242.6,257.5 238.5,266.6 233.5,275.7 226.5,286.4 219.5,295.4 210.5,305.2 199.5,315.4 190.5,322.4 180.5,328.7 170.5,333.5 162.5,336 154.5,337.1 147.5,336.8 140.5,335.2 134,332.5 127.4,328.5 120.5,322.8 114.4,316.5 108.5,308.8 103.4,300.5 98.5,290.6 94.5,280.4 91.5,271.1 88.5,259 86.5,248.3 84.5,234.2 82.6,215.5 82,204.5 81.8,191.5 82.2,178.5 84.5,157.1 86.5,146.5 89.5,134.9 92.5,126.4 97.1,116.5 102.3,107.5 106.5,101.7 111.5,96.1 116.8,91.5 122.6,87.5 130.6,83.5 137.5,81.2ZM146.5,88.5 139.5,89.7 133.5,91.7 126.5,95 121.5,98.2 116.5,102.3 111.5,107.6 106.5,114.2 103.4,119.5 102.3,122.5 101.5,123.5 97,137.5 94,148.5 92.1,157.5 90,174.5 89.4,193.5 90,204.5 91.2,216.5 93.1,230.5 95.9,245.5 98.3,255.5 101.2,265.5 104.1,273.5 107.3,280.5 111.2,287.5 116.5,294.9 122.3,301.5 128.5,307.1 134.5,311.4 140.5,314.6 145.5,316.2 151.5,316.7 159.5,315.8 168.5,313.5 178.5,309.6 187.5,305.1 195.5,300.1 203.5,293.9 211.5,286.5 218.8,278.5 225.5,269.7 231.3,260.5 235.6,252.5 239.8,242.5 242.9,232.5 245.1,222.5 246.3,212.5 246.6,202.5 245.9,191.5 244.1,180.5 241.7,170.5 238.1,159.5 233.7,149.5 228.7,140.5 223.5,132.7 217.5,125.2 210.5,117.9 201.5,110.1 190.5,102.1 180.5,96.1 170.7,91.5 163.5,89.5 154.5,88.3Z"/>
<path fill="#ffdb00" d="M167.1,85.5 170.2,85.5 174.5,86.5 182.8,89.5 192.5,94.4 203.5,101.4 210.5,107.3 219.5,116.3 225.5,123.4 232.5,133.4 237.5,142.2 241.5,150.9 245.5,161.7 248.5,172.2 250.5,182 251.8,192.5 252.5,205.5 252.1,217.5 250.7,229.5 248.5,239.5 245.5,249.5 241.6,259.5 237.5,268.2 231.5,278.7 225.5,287.4 218.5,296.3 210.5,304.8 201.5,313.2 192.5,320.4 184.5,325.8 175.5,330.6 166.5,334.2 158.5,336 150.5,336.3 145.5,335.7 140.8,334.5 135.7,332.5 131.5,330.3 127.3,327.5 122.5,323.7 118.2,319.5 113.5,314.3 109.5,309 105.5,302.9 99.5,291.2 93.5,275.5 89.5,260.7 86.5,244.2 83.5,218 82.6,194.5 83.5,174.8 86,157.5 88.3,146.5 90.5,138.5 94.5,127.5 97.5,121.3 100.5,116.5 101.5,115.4 101.5,116.9 97.9,126.5 95,135.5 92,147.5 89.4,161.5 89.2,166.5 88.7,168.5 88.4,187.5 88.9,201.5 90.1,214.5 92.9,233.5 95.8,248.5 98.9,260.5 103,272.5 107,281.5 112.3,290.5 118.6,298.5 125.5,305.5 133.5,311.6 140.5,315.4 144.5,316.7 147.5,317.3 155.5,317.2 164.5,315.4 174.5,312 185.5,306.8 196.5,300 205.5,292.8 214.5,284 222.5,274.5 229.4,264.5 235,254.5 239.8,243.5 243,233.5 245.6,221.5 246.8,211.5 247,202.5 246.4,192.5 245,182.5 243,173.5 240.1,163.5 237.1,155.5 232.8,146.5 228.3,138.5 222,129.5 215.5,121.7 209.5,115.6 198.2,105.5 196.5,103.6 185.5,96 178.5,92 167.5,86.5Z"/>
<path fill="#ffb300" d="M194.8,99.5 195.5,99 197.1,99.5 205,104.5 211.5,109.8 221.5,119.4 226.5,125.4 233.5,135.6 237.5,142.8 241.5,151.5 244.5,159.3 247.5,169 249.5,177.4 251.5,190.2 252.2,203.5 252.1,214.5 251.5,222.8 249.5,234.8 246.5,246.1 243.5,254.6 239.5,263.8 234.5,273.3 229.5,281.4 222.5,291 215.5,299.3 207.5,307.3 199.4,314.5 191.5,320.6 183.5,325.7 174.3,330.5 166.4,333.5 158.5,335.2 151.5,335.5 144.5,334.6 137.5,332.4 130.2,328.5 123.5,323.5 116.4,316.5 110.5,309.1 104.5,299.7 99.5,289.5 95.5,279.2 91.5,265.9 88.5,251.6 86.5,238 84.5,217.5 84.5,206.5 84,200.5 84.1,188.5 85.5,170.4 86.5,164.1 87.5,159.9 87.6,164.5 86.8,179.5 87.5,205.8 93,239.5 96.9,256.5 101,269.5 106.1,281.5 112.8,292.5 120.5,301.8 129.5,309.8 133.5,312.6 138.5,315.4 142.5,317 146.5,317.9 150.5,318.3 155.5,318 165.5,315.9 177.5,311.4 189.5,305.2 195.5,301.3 201.5,296.8 212.5,286.7 222.5,275.1 231.1,262.5 237.8,249.5 242.9,235.5 246.1,221.5 247.4,207.5 246.9,192.5 245.8,184.5 244,175.5 240,161.5 234.1,147.5 230.9,141.5 226,133.5 213.1,116.5 206.5,110 197.7,102.5Z"/>
<path fill="#ff8a00" d="M210.3,111.5 210.5,111.1 211.4,111.5 210.5,111.7ZM211.1,112.5 211.5,111.5 217.5,116.8 223,122.5 227.2,127.5 233.5,136.5 237.5,143.6 241.5,152.2 244.5,160 247.5,169.7 249.5,178.3 251.5,191.7 252.1,209.5 251.6,220.5 250.5,228.9 248.5,238.5 246.5,245.6 242.5,256.6 238.5,265.5 233.5,274.7 228.5,282.5 222.5,290.7 215.5,298.9 207.5,306.9 198.8,314.5 190.7,320.5 182.7,325.5 174.5,329.6 167,332.5 159.5,334.2 153.5,334.7 147.5,334.3 140.5,332.6 135.4,330.5 128.7,326.5 122.6,321.5 117.5,316.4 112.5,310.4 107.5,303.1 103.5,296 99.5,287.2 96.5,279.3 93.5,269.6 91.5,261.1 89.7,250.5 89.5,246.5 88.8,244.5 88.6,240.5 87.9,237.5 86.2,221.5 85.4,209.5 85.5,195.4 88,219.5 91.4,240.5 92.1,242.5 92.5,245.8 93.3,247.5 93.8,250.5 98.1,264.5 103.1,277.5 107.8,286.5 113.9,295.5 121,303.5 128.5,310.1 136.5,315.3 143.5,318.2 150.5,319.1 155.5,318.9 160.5,318 170.5,315 182.5,309.8 192.5,304 203.5,295.8 212.5,287.3 222,276.5 229.7,265.5 235.9,254.5 241.1,242.5 244.9,229.5 247.3,215.5 247.9,202.5 246.9,188.5 244.2,173.5 240,159.5 235,147.5 227.2,132.5 220.9,123.5Z"/>
<path fill="#ff6100" d="M224.4,126.5 224.5,126.1 224.8,126.5ZM225.2,127.5 225.5,127 225.8,127.5 225.5,128.2ZM225.8,128.5 226.5,128.2 227.5,129.3 232.7,136.5 236.5,143 240.3,150.5 243.5,158.3 246.5,167.2 248.5,174.7 250.5,185.2 251.5,193.5 251.8,200.5 251.5,220.1 250.5,227.9 248.5,237.8 245.5,248.1 241.5,258.6 237.5,267 232.5,275.9 227.5,283.6 221.5,291.5 215.5,298.4 208.5,305.5 200.5,312.5 192.5,318.6 184.9,323.5 177.4,327.5 170.3,330.5 163.5,332.5 157.5,333.5 150.5,333.6 143.7,332.5 137.9,330.5 133.8,328.5 129.1,325.5 120.5,318 112.5,308.6 108.5,302.5 105.5,297.2 99.7,283.5 95.1,269.5 92.2,257.5 90.5,247.9 89.5,240.8 89.5,235.8 89.9,239.5 90.5,240.4 93,252.5 96.3,264.5 99.3,273.5 103.5,282.5 110.1,292.5 118.4,302.5 126.5,309.9 135.5,316 142.5,319 148.5,320.1 155.5,319.9 163.5,318.2 172.5,315.2 183.5,310 192.5,304.7 200.5,298.9 209.5,291 217.6,282.5 224.8,273.5 232.1,262.5 237.8,251.5 241.9,241.5 244.9,231.5 247.1,220.5 248.3,209.5 248.3,197.5 247,184.5 244.9,173.5 242,162.5 237.5,149.5 236.7,148.5 236.6,147.5 233.7,141.5Z"/>
<path fill="#ff3800" d="M235.5,143.5 235.5,143.1 235.6,143.5ZM236.4,144.5 236.7,145.5 236.5,145.7 236.4,145.5ZM237.2,146.5 237.5,146.3 237.8,147.5 237.5,148ZM238.1,148.5 238.5,148.2 238.7,148.5 238.9,149.5 238.5,150.3ZM238.9,150.5 239.5,150.2 240.6,152.5 244.8,163.5 247.3,171.5 249.5,181.3 251.5,196.3 251.5,218 249.5,232.5 245.5,247.6 239.5,262.5 232.5,275.5 223.5,288.6 217.5,295.7 210.5,303 203.4,309.5 194.5,316.5 188.5,320.5 181.6,324.5 172.8,328.5 166.9,330.5 161.5,331.7 155.5,332.4 150.5,332.3 145.2,331.5 139,329.5 133.2,326.5 126.5,321.5 121.4,316.5 115.8,309.5 110.1,301.5 105.5,293.3 101.4,284.5 98.5,276.8 98,274.5 98.5,273.6 100.9,279.5 106,289.5 112.1,298.5 116.5,303.7 121.5,308.4 132.5,315.9 138.5,319 144.5,320.9 150.5,321.5 156.5,321 164.5,319.1 172.5,316.2 181.5,312 188.5,308.1 196.5,302.8 204.5,296.4 211.5,289.8 219.1,281.5 226.2,272.5 230.8,265.5 236,256.5 240.1,247.5 243.1,239.5 246,229.5 248,218.5 249,208.5 249.1,197.5 248.1,185.5 247.4,179.5 246.7,177.5 246.6,174.5 245.7,172.5 245.7,170.5 244.9,169.5 244.7,167.5 242,159.5 241.9,158.5 241.3,157.5 240.9,155.5 239.4,152.5ZM96.5,269.5 96.5,269.2 96.5,269.6ZM97.3,271.5 97.5,271.2 98.2,273.5 97.5,273.7Z"/>
<path fill="#ff0f00" d="M244.5,164.5 244.5,164.4 244.5,164.8ZM245.4,167.5 245.5,167.2 245.5,168.7 245.4,168.5ZM246.5,170.5 246.7,171.5 246.5,172.8 246.3,171.5ZM247.3,174.5 247.5,174.1 247.8,176.5 247.5,177.3ZM248.4,178.5 248.8,180.5 248.5,182.7 248.1,180.5ZM249.4,183.5 250,187.5 249.5,189.8 249,186.5ZM250.3,190.5 250.5,190.3 251,195.5 251.5,209.1 250.5,224.9 248.5,235.9 244.5,249.7 238.5,264 231.5,276.6 227.5,282.6 221.5,290.5 210.4,302.5 197.5,313.5 186.8,320.5 181.1,323.5 174,326.5 167.5,328.5 162.5,329.4 152.5,330 145.5,329 141.5,327.9 136.5,325.6 131.5,322.6 127.5,319.6 121,313.5 113.5,304.3 111.2,300.5 111.5,299.6 116.7,305.5 123.5,311.9 130.5,317.2 136.5,320.7 141.5,322.7 145.5,323.7 150.5,323.9 158.1,323.5 172.5,317.8 185.5,311.1 197.5,303 208.5,293.7 219.1,282.5 226.9,272.5 235.1,259.5 240.9,247.5 246,232.5 249.1,218.5 249.9,206.5 249.8,193.5ZM110.4,298.5 110.5,298.5 111.2,299.5 110.5,299.6Z"/>
<path fill="#e50000" d="M250.5,193.5 250.6,195.5 250.5,198.1 250.4,195.5ZM250.4,210.5 250.5,209.9 250.9,213.5 250.7,218.5 249,231.5 246.3,242.5 241.5,256.5 236.3,267.5 228.5,280.5 222.5,288.6 216.5,295.5 210.5,301.5 198.5,311.3 189.5,317 178.5,322.6 167.5,326.5 163.3,327.5 156.5,328.3 148.5,328 145.6,327.5 139.8,325.5 136,323.5 133.2,321.5 134.5,321.5 141.5,324.2 148.5,325.4 156.5,325.1 165.5,322.9 177.5,317.8 188.5,311.6 194.6,307.5 206.5,297.1 215.9,287.5 225,276.5 233.9,263.5 240.4,251.5 243.5,244 243.8,242.5 244.5,241.5 244.8,239.5 246.7,234.5 246.9,232.5 247.8,230.5 248.1,227.5 248.9,225.5 249.2,221.5 250,219.5Z"/>
<path fill="#bd0000" d="M248.4,229.5 248.5,228.9 248.5,231.3 248.4,230.5ZM247.4,233.5 247.5,233 247.5,236 247.3,235.5ZM246.3,237.5 246.5,236.6 246.8,237.5 246.6,239.5 244.6,246.5 241.6,254.5 237.6,263.5 233.9,270.5 228.9,278.5 220.5,289.5 214.5,296 208.8,301.5 197.5,310.5 189.5,315.5 183.7,318.5 178.8,320.5 176.5,320.5 188.5,313.1 200.5,304.2 211.5,294.2 222,282.5 230.8,270.5 236.8,260.5 243,247.5 245.5,239.9 246,239.5Z"/>
<path fill="#940000" d="M233.5,268.5 233.5,268.4 233.5,268.6ZM232.4,270.5 232.5,270.2 232.5,270.6ZM231.4,271.5 231.7,271.5 231.5,272.4ZM230.2,273.5 230.5,272.9 230.5,273.9ZM229.4,274.5 229.5,274.2 229.9,274.5 229.5,275.6 228.5,275.5ZM228,276.5 228.5,275.5 228.8,276.5 228.5,277.1 222.5,285.4 218.5,289.9 217.6,289.5ZM216.9,290.5 217.5,289.6 217.8,290.5 217.5,290.9ZM216.1,291.5 216.5,291 216.9,291.5 216.5,291.9ZM215.2,292.5 215.5,292.2 215.8,292.5 215.5,292.8ZM214.3,293.5 214.5,293.3 214.7,293.5 214.5,293.7ZM213.5,294.5 213.5,294.4 213.6,294.5 213.5,294.6Z"/>
</g></g>
<rect x="307" y="31" width="210.8" height="371.5" fill="#00008f"/>
<g clip-path="url(#cB)"><g filter="url(#bl)">
<path fill="#000096" d="M386.8,54.5 387.5,54.1 389.5,54.7 396.5,54.9 397.5,55.6 404.5,56.9 405.5,57.6 407.5,57.9 410.3,59.5 412.5,59.9 422.5,65 424.5,66.6 427.5,68 440.5,76.8 442.5,78.7 448.5,82.9 452.2,86.5 454.5,88.1 472.9,106.5 480.4,114.5 490.4,127.5 495.9,136.5 503.3,151.5 507.4,163.5 507.5,164.8 508.3,166.5 508.5,168.8 509.3,170.5 509.5,173.6 510.3,175.5 510.5,178.7 511.3,180.5 511.5,185.6 512.3,187.5 512.5,196.6 513.3,199.5 513.3,214.5 512.5,217.3 512.2,227.5 511.5,229 511.2,234.5 510.5,235.9 510.2,239.5 509.5,241 509.2,244.5 508.5,245.7 508.2,248.5 507.5,249.7 507.3,251.5 506.5,253 506.2,255.5 505.5,256.6 504.2,261.5 500.5,270.1 500.3,271.5 495.3,281.5 487.7,293.5 482.5,299.2 481,301.5 466.5,316.1 464.2,317.5 459.5,322 457.2,323.5 452.5,327.8 438.5,338.1 436.5,340.1 432.3,342.5 432.2,343.5 430.5,345.2 418.6,352.5 405.5,361.5 401.5,365.3 399.5,368.5 397.5,373 397.5,380.4 408.5,397.6 411.7,401.5 410.5,402.3 408.5,402.5 405.5,402.2 404.5,401.3 402.5,402.1 399.5,402.3 345.5,402.2 343.7,401.5 344.6,397.5 344.8,392.5 346.6,382.5 346.8,378.5 349,367.5 350,362.5 351.5,359.2 352.5,358.5 354.5,358.4 359.5,360 362.5,361.5 369.7,368.5 373.9,375.5 374.5,375.6 377.9,373.5 374.9,369.5 372.8,365.5 372,362.5 372.4,360.5 371.9,359.5 367.1,354.5 359,342.5 356.8,338.5 355.5,335 352.1,328.5 351.5,326.1 347.1,317.5 346.5,315.1 343.2,308.5 342.5,306 337.8,295.5 331.5,275.5 329.6,267.5 326.6,252.5 326.2,248.5 325.6,246.5 324.2,233.5 323.6,231.5 323.2,223.5 322.6,221.5 322.2,205.5 321.6,202.5 321.6,184.5 322.1,181.5 322.4,168.5 323.3,158.5 324.9,148.5 325,144.5 325.8,141.5 326.1,137.5 326.6,136.5 328,127.5 328.6,126.5 328.9,123.5 329.6,122.5 329.9,119.5 330.5,118.7 330.8,116.5 331.5,115.6 331.8,113.5 332.5,112.6 332.8,110.5 333.5,109.6 333.8,107.5 334.5,106.5 334.8,104.5 336.5,101.5 336.8,99.5 343.8,85.5 345.5,83.5 346.8,80.5 348.5,78.5 349.5,76.5 351.5,74.5 352.5,72.5 362.5,62.6 364.5,61.5 366.5,59.8 372.5,56.9 374.5,56.5 375.5,55.9 378.5,55.5 379.5,54.9ZM396.5,96.4 392.5,97.4 388.5,99.1 382.5,105.1 377.5,111.1 361.5,135.2 355.9,145.5 352.4,153.5 349.7,162.5 347.5,172.4 345,190.5 344.8,197.5 345.2,205.5 347.5,226.6 349.5,238.6 351.5,247.7 354.5,257.8 358.5,269 362.5,278.5 366.5,286.2 370.7,292.5 376.3,299.5 380.5,303.5 387.8,309.5 392.5,312.4 395.5,313.3 398.5,313.9 404.5,314.5 420.5,314.6 429.5,313.8 435.5,312.5 444.5,309.2 450.8,305.5 458.5,299.5 466.5,292.2 473.5,284.4 479.5,276.3 485.5,266.2 489.5,258 492.5,250.5 495.5,240.6 497.5,231.3 498.8,221.5 499.4,211.5 498.7,198.5 497.5,188.8 495.5,178.8 493.5,171.7 489.5,161.2 485.5,153.2 480.5,145.2 474.5,137.1 466.5,128 458.7,120.5 451.6,114.5 444.5,109.6 435.2,104.5 426.3,100.5 418.5,97.9 411.5,96.5 403.5,96ZM386.5,380.4 377.4,383.5 370.6,388.5 369.5,389.8 369.5,391 378.5,388.1 380.5,387.8 392.5,390.1 395.5,391.1 395.5,390.3 388.5,381.2 387.5,380.2ZM396.5,391.5 396.2,391.5 396.5,391.6ZM403.5,400.5 403.5,400.5 403.5,400.7 403.5,400.5Z"/>
<path fill="#0000a8" d="M379.2,55.5 380.5,55.1 385.5,55 387.5,54.5 389.5,55 396.5,55.4 407.5,58.4 413.5,60.8 421.5,64.8 434.5,73.1 447.5,82.6 454.5,88.6 469.4,103.5 479.2,113.5 480.5,115.5 484.2,119.5 484.5,120.5 487.2,123.5 487.5,124.5 492.1,130.5 498.3,141.5 503.1,151.5 503.5,153.5 504.2,154.5 504.5,156.5 505.2,157.5 505.5,159.5 506.2,160.5 506.5,162.5 508,166.5 508.4,169.5 509.2,171.5 509.5,174.5 510.1,175.5 510.5,179.5 511,180.5 511.5,186.5 512.1,188.5 512.4,197.5 513,199.5 513,213.5 512.4,216.5 512,226.5 511.4,228.5 511.1,233.5 510.4,235.5 509.9,239.5 509.4,240.5 509.1,243.5 505.8,255.5 502,266.5 500.5,269.3 499,273.5 495,281.5 493.5,283.4 492.1,286.5 488.5,291.4 488.1,292.5 479.6,302.5 467.5,314.6 451.5,328.2 450.5,328.6 439.5,337.2 438.5,337.5 435.5,340.4 432,342.5 431.8,343.5 430.5,344.9 419.7,351.5 406.5,360.5 402.7,363.5 400.5,366.4 397.5,372.3 397,375.5 397.4,380.5 408.5,398.3 411.3,401.5 409.5,402.4 406.5,402.3 405.5,402 400.5,396.1 399.7,396.5 402,399.5 402.7,401.5 401.5,401.9 364.5,402 361.5,402.4 359.5,402.1 347.5,402.1 344.7,401.5 345.5,397.5 345.8,392.5 347.5,382.5 347.8,378.5 351,362.5 352.5,359.7 353.5,359.3 355.5,359.6 359.5,360.9 362.5,362.6 369.4,369.5 373.2,376.5 373.5,376.6 378.6,373.5 376,370.5 373.7,366.5 372.8,363.5 373.2,360.5 364,349.5 362.5,346.6 360.8,344.5 357.7,339.5 353,329.5 351.5,325.5 347.9,318.5 346.5,314.4 344,309.5 342.5,305.3 340.6,301.5 340.5,300.5 337.7,294.5 334.5,284.1 333.7,282.5 333.5,280.2 331.7,275.5 330.5,269 329.7,267.5 329.5,264.1 328.7,262.5 328.5,259.1 327.8,257.5 327.5,253.9 326.8,252.5 326.5,247.9 325.8,246.5 325.5,240.9 324.8,239.5 324.5,233 323.7,230.5 323.5,222.9 322.7,220.5 322.5,205.5 321.8,202.5 321.7,184.5 322.5,181.5 322.6,167.5 323.5,164.5 323.7,157.5 324.4,155.5 324.6,150.5 325.3,148.5 325.6,143.5 328.2,128.5 330.3,119.5 335.1,104.5 336.5,101.9 337.1,99.5 344.1,85.5 345.6,83.5 347.7,79.5 349.8,76.5 351.7,74.5 352.8,72.5 362.5,62.8 365.5,60.8 372.5,57.2ZM393.5,93.5 388.5,95 385.6,96.5 379.5,102.7 374.5,108.9 358.9,133.5 353.7,143.5 349.5,153.4 347.5,160 345.5,168.9 343.5,180.9 342.4,191.5 342.3,198.5 342.8,207.5 345.5,230.7 347.5,242 349.5,250.5 353.5,263.5 357.5,274.2 361.5,283.2 364.5,288.7 370.4,297.5 374.5,302.3 384.5,311.6 388.5,314.5 391.5,315.9 392.5,315.9 397.5,317.5 404.5,318 420.5,317.7 427.5,317 434.5,315.5 443.1,312.5 450.3,308.5 457,303.5 466,295.5 473.5,287.5 479.5,279.7 485.5,270.1 490.5,260.3 494.5,250.3 497.5,239.9 499.5,230 500.5,222.4 501.1,211.5 500.5,198.5 499.5,190 497.5,179.4 494.5,168.9 490.5,158.9 486.5,151.1 481.5,143.2 475.5,135.2 467.7,126.5 459.5,118.5 452.3,112.5 444.5,107.2 434.3,101.5 425.3,97.5 416.5,94.7 408.5,93.3 400.5,92.8ZM391.5,375.5 391.3,375.5 391.5,376.8 392,376.5ZM385.5,380.4 378.8,382.5 375.4,384.5 369.5,389.1 368.5,391.3 368.5,392.5 378.5,389.1 381.5,388.9 393.5,391.4 396.5,392.8 398.5,394.8 398.8,394.5 398.5,393.5 388.5,380.7 387.5,379.8ZM399.5,395 399,395.5 399.5,396.2 399.8,395.5Z"/>
<path fill="#0000bd" d="M380.5,55.5 385.5,55.4 387.5,54.7 389.5,55.4 396.5,55.6 398.5,56.4 400.5,56.6 402.5,57.4 404.5,57.6 407.5,58.6 411.5,60.5 412.5,60.6 422.5,65.6 439.5,76.8 446.5,82.5 447.5,82.9 452.4,87.5 454.5,88.9 473.2,107.5 479.8,114.5 489.8,127.5 494.8,135.5 501,147.5 503.9,154.5 508,167.5 510.9,181.5 511.9,189.5 512.7,200.5 512.7,211.5 511.8,225.5 510.7,233.5 508.7,243.5 505.8,254.5 502,265.5 498.1,274.5 491.7,286.5 487,293.5 481.5,299.5 480.3,301.5 466.5,315.3 464.5,316.6 459.5,321.3 457.4,322.5 451.5,327.9 438.1,337.5 435.5,340.2 431.5,342.5 431.5,343.5 429.5,345.2 419.3,351.5 410.5,357.5 403.4,362.5 401.5,364.6 397.5,371.8 396.7,375.5 397.2,380.5 400.5,386.4 408.5,398.7 411,401.5 409.5,402.3 406.5,402.2 405.4,401.5 387.5,379.4 377.8,382.5 373.5,385.5 369.5,388.6 367.5,393.1 367.5,394.4 371.7,392.5 379.5,390.1 381.5,390.1 391.5,392 394.5,393 396.5,394.3 400.6,399.5 401.5,401.5 398.5,401.8 364.5,401.7 361.5,402.3 359.5,401.8 348.5,401.8 345.7,401.5 348.8,378.5 351.8,363.5 352.5,361.5 353.5,360.6 355.5,360.7 359.5,362.1 362.5,364 368.8,370.5 372.5,377.5 379,373.5 375.7,369.5 374.1,366.5 373.3,363.5 373.8,360.5 364.5,349.5 359.1,341.5 356.9,337.5 356.5,335.6 352.7,328.5 352.5,327.1 347.7,317.5 347.5,316.1 343.7,308.5 343.5,307 340.8,301.5 340.5,299.7 337.9,294.5 337.6,292.5 336.9,291.5 336.5,289.5 335.9,288.5 335.6,286.5 333.9,282.5 333.5,279.5 332,275.5 331.6,272.5 331,271.5 330.6,268.5 330,267.5 329.6,263.5 329,262.5 328.6,258.5 328,257.5 327.6,253.5 326.9,251.5 326.6,247.5 325.9,245.5 325.6,240.5 324.9,238.5 324.6,232.5 323.9,230.5 323.6,222.5 323,220.5 322.7,205.5 322.1,202.5 322,184.5 322.6,181.5 322.8,167.5 323.5,165.5 323.7,158.5 324.5,156.3 324.8,150.5 325.6,148.5 325.7,143.5 326.5,141.7 326.7,137.5 327.5,135.5 327.6,132.5 328.4,130.5 328.6,127.5 329.4,125.5 330.6,119.5 335.5,104.5 337.9,98.5 343.9,86.5 348,79.5 353,72.5 362.5,63.1 365.5,61.1 372.5,57.6ZM393.5,90.4 388.6,91.5 384.5,93 379.5,97.9 373.5,104.9 368.5,112.1 357.5,130.4 352.3,140.5 348.4,149.5 345.5,158.4 343.5,167.3 341.5,179.4 340.5,188.5 340.2,196.5 340.4,204.5 342.5,225.3 344.5,238.1 346.5,247.9 349.5,258.8 353.5,270.6 357.5,280.5 361.5,288.5 366.5,296.6 371.8,303.5 381.7,313.5 386.5,317.2 389.5,318.7 392.5,318.9 396,320.5 401.5,321.3 417.5,320.5 425.5,319.6 434.4,317.5 442.5,314.5 448.3,311.5 455.5,306.5 463.7,299.5 472.5,290.4 479.5,281.6 486.5,270.7 491.5,260.9 495.5,250.9 498.5,240.8 500.5,231.2 501.5,224.2 502.3,210.5 501.6,196.5 500.5,187.7 498.5,177.5 495.5,167.3 492.5,159.6 488.5,151.5 482.5,141.8 476.5,133.9 468.5,124.9 460.8,117.5 452.5,110.6 443.6,104.5 434.7,99.5 426.1,95.5 417.5,92.5 409.5,90.8 400.5,90ZM391.5,375.3 390.7,375.5 392.5,378.5 392.5,375.8Z"/>
<path fill="#0000d1" d="M385.9,55.5 387.5,54.9 389.5,55.6 396.5,55.7 398,56.5 400.5,56.7 402,57.5 404.5,57.8 405.9,58.5 407.5,58.8 410.9,60.5 412.5,60.8 422.5,65.8 424.6,67.5 427.5,68.8 429.5,70.5 433.5,72.9 447.5,83.1 454.5,89.1 476.8,111.5 486.6,123.5 494.5,135.5 499.8,145.5 502.9,152.5 507.8,167.5 510.8,182.5 512.4,199.5 512.4,214.5 511.4,226.5 510.3,234.5 508.3,244.5 503.3,261.5 499.3,271.5 494.9,280.5 491.4,286.5 486.7,293.5 481.5,299.3 480.1,301.5 465.5,316 464.4,316.5 459.5,321 457.2,322.5 451.5,327.6 437.8,337.5 435.5,339.9 432.5,341.5 431.4,342.5 431.3,343.5 430.5,344.4 417.5,352.5 404.5,361.5 401.5,364.4 399.5,367.5 397.5,371.5 396.5,375.1 397,380.5 400.5,386.7 408.5,398.9 410.8,401.5 408.5,402.3 406.5,402.1 405.6,401.5 394.9,388.5 388.5,380.1 387.5,379.2 377.3,382.5 369.5,388.3 366.5,395 366.3,396.5 365.5,397.3 365.4,398.5 364.5,399.4 364.4,400.5 363.7,401.5 361.5,402.2 359.5,401.5 347.5,401.5 349.5,385.5 350.2,382.5 350.5,378.5 353.5,363.5 354.3,362.5 355.8,362.5 360.6,364.5 362.5,364.6 363.4,365.5 365.4,368.5 365.5,369.2 367.5,371.4 368.5,373.1 370.6,377.5 370.6,379.5 371.5,379.7 374.5,376.6 378.3,374.5 379.3,373.5 376,369.5 374,365.5 373.8,362.5 374.6,361.5 374.1,360.5 369.5,354.6 364.9,349.5 359.4,341.5 357.2,337.5 356.6,335.5 352.9,328.5 352.5,326.5 347.9,317.5 347.5,315.5 343.9,308.5 343.5,306.5 341,301.5 340.6,299.5 338.2,294.5 332.2,275.5 330,266.5 329.7,263.5 329,261.5 328.7,258.5 327.1,251.5 325.7,240.5 325.1,238.5 324.7,232.5 324.1,230.5 323.7,222.5 323.2,220.5 322.8,205.5 322.3,202.5 322.2,184.5 322.7,181.5 323,167.5 323.7,164.5 323.9,158.5 324.6,156.5 324.8,151.5 325.5,149.5 325.8,144.5 326.5,142.4 326.8,137.5 327.5,136.1 327.7,132.5 328.5,130.9 328.7,127.5 329.5,125.9 330.7,119.5 335.6,104.5 337.5,100.5 337.6,99.5 344.6,85.5 347.6,80.5 353.3,72.5 362.5,63.4 366.5,60.7 372.5,57.7 373.9,57.5 375.5,56.7 377.8,56.5 379.5,55.7ZM390.5,88.5 385.5,89.8 382.5,91.3 377.5,96.3 371.5,103.5 366.5,110.9 357.3,126.5 349.7,141.5 344.8,154.5 341.5,168.8 338.9,188.5 338.6,195.5 338.8,203.5 339.7,215.5 341.5,229.9 343.5,241.8 345.4,250.5 351.5,270.3 355.5,280.4 359.5,288.8 363.5,295.6 368.5,302.8 375.5,310.8 383.5,318.2 387.5,320.8 389.5,321.3 391.5,320.8 393.5,322.3 396.5,323.3 404.5,323.7 414.5,322.6 427.8,320.5 437.7,317.5 446.5,313.5 452.8,309.5 461.5,302.5 470.5,293.7 477.5,285.4 484.5,275.3 490.5,264.6 494.5,255.5 498.5,243.5 500.5,234.9 502.5,221.2 503,209.5 502.5,198.5 500.5,183 498.5,174.1 495.5,164.6 491.5,155.2 487.5,147.7 481.5,138.6 473.5,128.6 465.7,120.5 455.7,111.5 447.6,105.5 435.9,98.5 425.5,93.5 416.7,90.5 407.5,88.5 397.5,87.7ZM392.5,374.5 390.4,375.5 392.5,378.8 392.7,377.5ZM370.5,379.6 366,384.5 364.9,386.5 365.5,386.7 370.6,381.5ZM364.5,387.9 363.8,389.5 364.5,389.6 364.5,389.5ZM363.5,390.9 363.2,391.5 362.8,392.5 363.5,392.6ZM362.5,393.7 362.1,394.5 361.7,395.5 362.5,395.6ZM361.5,395.9 361.1,396.5 360.7,397.5 361.5,397.7ZM360.5,398.1 359.9,399.5 360.5,399.7 360.5,399.5Z"/>
<path fill="#0000eb" d="M386.5,55.5 387.5,55 389.5,55.7 396.5,55.9 397.5,56.5 404.5,57.9 405.5,58.5 407.5,58.9 410.5,60.5 412.5,60.9 422.5,66 424.5,67.6 427.5,69 439.5,77.2 447.5,83.3 454.5,89.4 473.7,108.5 483.4,119.5 491.3,130.5 496,138.5 501.9,150.5 505.8,161.5 509.3,175.5 511.4,188.5 512.3,199.5 512.3,214.5 511.3,226.5 510.1,234.5 508.1,244.5 505.1,255.5 503.1,261.5 498.2,273.5 494.1,281.5 487.3,292.5 479.8,301.5 466.5,314.9 451.5,327.3 437.5,337.5 435.5,339.7 432.3,341.5 431.2,342.5 431.2,343.5 430.5,344.2 417.3,352.5 404.4,361.5 401.5,364.2 399.5,367.4 397.5,371.3 396.5,374.4 396.8,380.5 401.5,388.4 408.5,399.1 410.5,401.5 408.5,402.3 406.5,402 405.8,401.5 395.1,388.5 388.5,379.8 387.5,379.1 376.9,382.5 369.5,388.2 368.5,389.7 364.1,400.5 362.5,402.1 361.5,402.2 359.7,401.5 360.5,400.5 361.9,396.5 362.5,396 365.7,386.5 370.8,381.5 371.8,379.5 373.7,377.5 375.5,376.1 378.9,374.5 379.6,373.5 376.9,370.5 374.3,365.5 373.9,363.5 374.2,362.5 375.1,361.5 369.5,354 365.3,349.5 359.6,341.5 353.1,328.5 352.6,326.5 348.1,317.5 347.6,315.5 344.1,308.5 343.6,306.5 341.2,301.5 340.7,299.5 338.4,294.5 332.1,274.5 329.2,261.5 326.3,245.5 323.4,220.5 322.5,202.5 322.4,186.5 323.2,167.5 323.7,165.5 324.1,158.5 324.7,156.5 325,151.5 325.6,149.5 325.9,144.5 326.6,142.5 326.9,137.5 327.5,136.5 327.9,132.5 328.5,131.5 328.8,127.5 329.5,126.4 330.8,119.5 331.5,118.2 331.7,116.5 332.5,115.1 335.7,104.5 337.5,100.9 337.7,99.5 344.7,85.5 349.7,77.5 353.5,72.6 363.5,62.8 368.5,59.8 375.5,56.8 378.4,56.5 379.5,55.8ZM390.5,86.4 384.5,87.9 381.5,89.4 377.5,93.2 371.5,100.2 367.5,105.7 363.5,112.2 354.5,127.9 349.3,138.5 345.9,146.5 343.5,153.5 340.5,166.6 338.6,178.5 337.7,187.5 337.3,194.5 337.5,203.1 339.5,224.9 341.5,238.2 343.5,248.3 346.5,259.5 350.5,271.5 354.5,281.7 358.5,289.9 363.5,298.4 368.5,305.4 374.7,312.5 381.8,319.5 384.5,321.5 387.5,323 389.5,323.2 390.5,322.8 393.4,324.5 395.5,325.1 401.5,325.6 409.5,324.7 427.3,321.5 434.3,319.5 444,315.5 450.9,311.5 457.6,306.5 466.5,298.5 474.5,289.8 481.5,280.7 487.5,271.2 492.5,261.4 496.5,251.5 499.5,241.4 501.5,232 503.3,216.5 503.4,205.5 502.5,192.8 500.5,180.2 497.5,168.6 494.5,160.4 489.5,149.9 484.5,141.6 478.5,133.3 470.5,124.1 460.6,114.5 452.1,107.5 440.5,99.8 428.7,93.5 418.5,89.5 407.5,86.9 397.5,85.9ZM360.7,365.5 361.5,364.8 362.5,364.9 363.1,365.5 367.3,372.5 367.5,374 368.3,375.5 368.5,377.5 369.2,378.5 369.3,380.5 368.5,381.3 367.5,381.3 366.7,380.5 366.5,379 365.7,377.5 365.5,375.4 364.8,374.5 364.5,372.9 360.7,366.5ZM392.5,374.3 390.2,375.5 392.5,379 392.8,377.5Z"/>
<path fill="#000aff" d="M387.1,55.5 396.5,56.1 397.5,56.7 400.5,57.1 401.5,57.7 404.5,58.1 405.5,58.7 407.5,59.1 418.5,64.1 427.5,69.2 439.5,77.4 453.5,88.8 474.4,109.5 483.1,119.5 491.1,130.5 496.9,140.5 502.2,151.5 506.2,163.5 509.2,175.5 511.2,188.5 512.1,200.5 512,214.5 511.1,226.5 509.1,238.5 507.1,247.5 503.8,258.5 500.9,266.5 496.9,275.5 490.9,286.5 487,292.5 478.6,302.5 465.5,315.4 451.5,327 437.5,337.1 435.3,339.5 432,341.5 431,342.5 431,343.5 430.5,344 418.5,351.5 404.2,361.5 401.5,364 399.5,367.2 397.5,371.1 396.5,374.1 396.6,380.5 408.5,399.5 410.3,401.5 408.5,402.2 406,401.5 396.1,389.5 388.5,379.5 387.5,378.8 376.5,382.5 369.5,387.9 368.5,389.2 363.1,401.5 361.5,402 360.1,401.5 362.5,396.5 366,386.5 371.1,381.5 372.2,379.5 374,377.5 377.5,375.2 380,374.5 379.9,373.5 377.2,370.5 374.9,366.5 374.4,363.5 375.8,361.5 368.5,352 365.5,349 360,341.5 353.4,328.5 352.8,326.5 344.4,308.5 343.8,306.5 338.7,294.5 332.7,275.5 330.5,266.5 327.6,251.5 325.6,238.5 323.6,220.5 322.7,202.5 322.7,193.5 322.7,184.5 323.4,167.5 327,138.5 327.7,136.5 328.1,132.5 328.6,131.5 329,127.5 329.6,126.5 330,123.5 330.6,122.5 331,119.5 332.5,115.5 332.9,113.5 333.5,112.5 333.9,110.5 334.5,109.5 334.9,107.5 335.5,106.5 335.9,104.5 337.5,101.5 337.9,99.5 344.9,85.5 346.5,83.5 347.9,80.5 349.6,78.5 349.9,77.5 352.5,74.6 353.5,72.8 363.5,63 368.5,60 375.5,57 378.5,56.6 380.5,55.9ZM387.5,84.4 382.5,85.8 379.5,87.6 374.5,92.7 368.5,100 364.5,105.8 360.5,112.6 352.5,127.2 347.5,137.8 342.4,151.5 340.5,158.6 338.5,168.9 336.3,187.5 336,195.5 336.2,204.5 338.5,228.3 340.5,241 342.5,250.5 345.5,261.5 348.5,270.6 352.5,281 356.5,289.6 361.5,298.5 366.5,305.8 373.5,314.2 380.7,321.5 383.5,323.7 386.5,325.3 390.5,325.6 392.5,326.6 395.5,327.3 400.5,327.4 407.5,326.5 427.1,322.5 436.6,319.5 443.5,316.5 450.5,312.5 458.5,306.5 467.5,298.3 475.5,289.5 482.5,280.2 488.5,270.5 494.5,258.1 498.5,246.9 501.5,234.8 503.5,220.8 503.9,210.5 503.6,199.5 502.5,188.4 500.5,177.4 497.5,166.6 493.5,156.3 488.5,146.6 482.5,137.3 475.5,128.3 466.5,118.6 456.5,109.5 448.5,103.5 437.5,96.5 425.6,90.5 414.5,86.5 405.6,84.5 396.5,83.6ZM361.1,365.5 361.5,365.2 362.8,365.5 366.9,372.5 368.9,379.5 368.5,380.9 367.5,380.9 367.1,380.5 364.7,372.5 361.1,366.5ZM392.5,373.9 390,375.5 392.5,379.3 392.9,378.5ZM382.5,375.5 382.5,375.5 382.5,375.5Z"/>
<path fill="#0029ff" d="M379.1,56.5 380.5,56 385.5,56 387.5,55.5 396.5,56.3 397.5,56.8 400.5,57.3 401.5,57.8 404.5,58.3 407.5,59.3 410.5,60.8 412.5,61.3 420.5,65.3 433.5,73.5 447.5,83.8 454.5,89.9 469.3,104.5 478.8,114.5 486,123.5 494,135.5 498.2,143.5 502,151.5 506.9,166.5 509.2,176.5 511,188.5 511.9,199.5 511.9,211.5 510.9,225.5 509.8,233.5 507.8,243.5 504.9,254.5 501,265.5 496.7,275.5 490.6,286.5 485.9,293.5 479.3,301.5 466.5,314.3 451.5,326.7 437.5,336.8 434.9,339.5 431.7,341.5 430.8,342.5 430.5,343.8 415.3,353.5 404,361.5 401.5,363.8 397.5,370.9 396.5,373.8 396.4,380.5 408.3,399.5 410.1,401.5 408.5,402.1 406.2,401.5 397.1,390.5 388.5,379.3 387.5,378.5 377.5,381.7 369.5,387.6 368.5,388.7 362.9,401.5 361.5,401.9 360.5,401.5 362.7,396.5 366.2,386.5 371.4,381.5 372.5,379.5 374.5,377.3 378.5,374.9 381.3,374.5 380.5,374.1 378.2,371.5 375.1,366.5 374.7,363.5 375.5,362.6 376.6,362.5 376.2,361.5 368.5,351.2 365.5,348.3 362.5,344.5 358,337.5 348.5,317.5 338.9,294.5 332.9,275.5 329.6,261.5 325.8,238.5 323.8,220.5 322.9,202.5 322.8,192.5 322.8,184.5 323.6,167.5 326.2,144.5 326.8,142.5 328,133.5 328.7,131.5 329,128.5 329.7,126.5 330.1,123.5 330.7,122.5 331.1,119.5 333.6,112.5 334,110.5 334.6,109.5 335,107.5 335.6,106.5 336,104.5 337.6,101.5 338,99.5 345.1,85.5 346.7,83.5 348.1,80.5 350.1,77.5 352.5,74.8 353.5,73 362.5,64 366.5,61.2 372.5,58.2ZM388.5,82.5 383.5,83.6 379.3,85.5 375.5,88.8 369.5,95.7 364.5,102.4 360.5,109 351.5,125.7 347.5,134.2 341.5,150.3 338.5,162.7 336.5,175.3 335.5,184.5 335,194.5 335.2,203.5 337.5,228.5 339.5,241.3 341.5,250.9 344.5,262 347.5,271.1 351.5,281.6 355.5,290.3 360.5,299.2 365.5,306.7 373.5,316.4 379.5,322.5 383.4,325.5 386.5,326.9 390.5,327.5 394.5,328.5 399.5,328.7 407.8,327.5 429.5,322.6 435.7,320.5 444.7,316.5 451.4,312.5 460.4,305.5 467.5,298.9 474.5,291.4 481.5,282.4 488.5,271.3 493.5,261.4 497.5,251.3 501.5,236.7 503.5,224.4 504.3,213.5 504.2,203.5 503.5,193.1 501.5,180 498.5,168.3 494.5,157.4 489.5,147.3 484.5,139.2 476.5,128.6 469.5,120.7 459.9,111.5 451.3,104.5 439.4,96.5 428.3,90.5 418.6,86.5 407.5,83.4 397.5,82ZM361.5,366.5 362.5,365.6 366.5,372.5 368.6,379.5 368.5,380.2 367.5,380.4 365,372.5ZM391.5,374.4 389.7,375.5 392.5,379.6 393.1,378.5 392.5,373.6ZM382.5,375.3 382.1,375.5 383.3,375.5Z"/>
<path fill="#0047ff" d="M379.4,56.5 387.5,55.7 395.5,56.3 407.5,59.5 410.5,61 412.5,61.5 422.5,66.6 436.5,75.8 447.5,84.1 454.5,90.2 471.1,106.5 478.5,114.5 488.6,127.5 493.8,135.5 499,145.5 502.9,154.5 507,167.5 509.9,181.5 510.9,189.5 511.7,200.5 511.8,210.5 510.8,224.5 509.8,232.5 507.6,243.5 504.6,254.5 500.8,265.5 496.9,274.5 491,285.5 485.6,293.5 479,301.5 466.5,314.1 451.5,326.4 437.4,336.5 435.5,338.7 431.4,341.5 430.7,342.5 430.5,343.6 416.6,352.5 403.8,361.5 401.5,363.6 397.5,370.7 396.5,373.5 396.3,380.5 400.4,387.5 408.2,399.5 409.9,401.5 408.5,402 406.5,401.5 405.6,400.5 394.9,387.5 388.5,379 387.5,378.4 377.5,381.5 369.4,387.5 368.4,388.5 362.7,401.5 361.5,401.8 360.8,401.5 366.5,386.5 371.7,381.5 372.7,379.5 375.5,376.7 378.5,375.1 381.5,375.1 381.8,374.5 380.5,373.7 377.6,370.5 375.3,366.5 374.9,364.5 375.1,363.5 375.5,363 377.4,362.5 368.5,350.6 362.5,343.9 358.3,337.5 348.7,317.5 339.1,294.5 333.1,275.5 329.8,261.5 325.9,238.5 324,220.5 323.1,202.5 323,192.5 323.8,167.5 326.4,144.5 328.2,133.5 331.3,119.5 335.1,107.5 336.2,104.5 337.7,101.5 338.2,99.5 345.2,85.5 346.8,83.5 350.3,77.5 354.1,72.5 362.5,64.2 366.5,61.4 372.5,58.4ZM387.5,81.4 382.8,82.5 378.5,84.5 374.5,88 368.5,94.8 363.5,101.6 359.5,108.1 351.5,123.2 347.5,131.6 341.5,147.3 339.5,154.3 337.5,163.7 335.5,177.3 334.6,187.5 334.5,204.5 336.5,226.7 338.5,240.1 340.5,250.1 343.5,261.5 347.5,273.7 351.5,283.9 355.5,292.4 361.4,302.5 365.5,308.4 372.5,316.9 378.9,323.5 382.8,326.5 385.5,327.9 393.9,329.5 398.5,329.7 406.8,328.5 428.3,323.5 437,320.5 445.5,316.6 453.5,311.6 461,305.5 468.5,298.5 476.5,289.5 483.5,280.1 489.5,270.2 494.5,259.9 498.5,249.3 501.5,238.2 503.5,227 504.6,215.5 504.5,201.5 503.5,190.2 501.5,178.3 498.5,167 494.5,156.4 489.5,146.5 484.5,138.4 476.5,127.8 468.5,118.9 458.5,109.5 449.7,102.5 439.1,95.5 428.1,89.5 418.4,85.5 408,82.5 397.5,80.9 392.5,80.9ZM362.2,366.5 362.5,366.2 362.9,367.5 362.5,367.7ZM363.2,368.5 363.5,368 363.5,369.4ZM364.3,370.5 364.5,369.6 364.8,370.5 364.5,371ZM365.2,371.5 365.5,371.4 365.8,372.5 365.5,372.9ZM366.3,373.5 366.5,373.3 366.7,374.5 366.5,376.2ZM392.5,373.3 389.5,375.5 392.5,379.8 393.4,379.5ZM382.5,375 381.7,375.5 382.5,375.9 384.6,375.5ZM367.2,377.5 367.5,376.8 367.5,379.6 367.3,378.5ZM393.5,379.6 393.3,380.5 393.5,380.8 393.6,380.5Z"/>
<path fill="#0066ff" d="M379.9,56.5 387.5,55.9 395.5,56.4 399.5,57.4 406.9,59.5 412.5,61.7 422.5,66.8 436.5,76 447.5,84.3 454.5,90.4 471.8,107.5 478.5,114.7 488.4,127.5 494.7,137.5 499.8,147.5 503.1,155.5 506.9,167.5 509.7,181.5 510.9,190.5 511.5,201.5 511.5,211.5 510.8,223.5 509.4,233.5 507.4,243.5 504.1,255.5 500.6,265.5 496.7,274.5 490.7,285.5 485.4,293.5 477.9,302.5 466.5,313.9 451.5,326.1 436.9,336.5 435.4,338.5 431.5,341.2 430.5,342.4 429.9,342.5 430.4,343.5 416.5,352.4 403.6,361.5 401.5,363.4 397.5,370.5 396.5,373.3 396.2,375.5 396.3,380.5 400.3,387.5 408,399.5 409.7,401.5 408.5,402 406.6,401.5 405.7,400.5 395.1,387.5 388.5,378.8 387.5,378.2 377.2,381.5 369.1,387.5 368.2,388.5 362.5,401.4 361,401.5 366.5,386.9 371.9,381.5 373.7,378.5 375.5,376.8 378.5,375.3 380.5,375.1 382.5,376.1 384.9,375.5 381.5,374.2 377,369.5 375.9,367.5 375.1,364.5 375.5,363.4 377.5,363 377.9,362.5 368.9,350.5 362.6,343.5 358.5,337.2 348.9,317.5 339.3,294.5 333,274.5 330,261.5 326.1,238.5 324.2,220.5 323.2,192.5 323.9,167.5 326.6,144.5 328.3,133.5 331.5,119.5 335.3,107.5 337.9,101.5 338.3,99.5 345.4,85.5 350.4,77.5 354.3,72.5 362.5,64.4 366.5,61.6 372.5,58.6ZM388.5,80.4 383,81.5 378.3,83.5 374.5,86.7 368.5,93.3 364.5,98.5 359.5,106.3 352.5,119.3 347.5,129.6 341.5,145.1 339.5,151.7 337.5,160.4 334.5,181.5 333.8,192.5 333.9,201.5 335.5,223.4 337.5,237.8 339.5,248.5 342.5,260.5 345.5,270.1 349.5,281 353.5,290.1 358.5,299.3 364.5,308.5 371.5,317.1 377.6,323.5 381.5,326.7 385.5,328.8 393.5,330.3 397.5,330.5 405.5,329.5 426.5,324.5 433,322.5 442.6,318.5 449.8,314.5 458,308.5 466.5,300.9 474.5,292.4 481.5,283.5 488.5,272.6 494.5,260.7 498.5,250.3 501.5,239.5 503.5,228.9 504.8,216.5 504.8,203.5 503.5,188 501.5,176.9 498.5,166 495.5,157.9 490.5,147.5 485.5,139.3 478.5,129.7 470.5,120.4 461.5,111.5 450.5,102.5 438.6,94.5 427.4,88.5 417.6,84.5 407,81.5 397.5,80.1ZM378.5,363.3 378.3,363.5 378.6,363.5ZM385.5,372.4 385.5,372.5 385.5,372.5 385.6,372.5ZM392.5,373 389.2,375.5 393.5,381.1 393.5,378.8Z"/>
<path fill="#008aff" d="M381.2,56.5 387.5,56.1 395.5,56.7 399.5,57.6 406.5,59.6 412.5,61.9 422.5,67 436.5,76.2 447.5,84.5 454.5,90.6 472.6,108.5 482.3,119.5 488.3,127.5 494,136.5 499.7,147.5 502.9,155.5 506.7,167.5 509.6,181.5 510.8,191.5 511.4,202.5 511.3,214.5 510.3,226.5 507.2,243.5 503.9,255.5 500,266.5 495.5,276.5 489.9,286.5 485.9,292.5 479.5,300.5 465.5,314.5 451.5,325.8 436.4,336.5 433.8,339.5 430.5,341.9 429.1,342.5 430.1,343.5 417.6,351.5 403.4,361.5 401.5,363.3 397.5,370.4 396.2,374.5 396.2,380.5 399.5,386.5 407.8,399.5 409.5,401.5 408.5,401.9 406.8,401.5 405.9,400.5 395.2,387.5 388.5,378.6 387.5,378.1 377,381.5 368.9,387.5 368,388.5 362.5,400.9 361.9,401.5 361.3,401.5 363.8,395.5 366.5,387.3 372.1,381.5 373.8,378.5 375.5,377 378.5,375.5 380.5,375.3 381.5,376.5 385.1,375.5 381.5,374 379.5,372.3 377.1,369.5 376,367.5 375.3,364.5 376.5,363.3 378.5,363.8 379.1,363.5 369.4,350.5 363.1,343.5 358.5,336.7 349.1,317.5 342.3,301.5 335.2,281.5 331.3,266.5 327.3,245.5 324.4,220.5 323.5,202.5 323.4,184.5 324.1,167.5 325,158.5 327.6,138.5 329.4,128.5 331.6,119.5 336.5,104.5 338,101.5 338.5,99.5 345.5,85.5 350.6,77.5 354.5,72.5 362.5,64.6 366.5,61.8 373.3,58.5ZM390.5,79.5 384.1,80.5 378.6,82.5 375.5,84.8 371.5,88.8 365.5,95.9 360.5,103.2 355.5,112 348.5,125.9 341.5,143.4 337.5,157.8 335.5,169.1 334,181.5 333.4,190.5 333.4,201.5 334.4,217.5 335.5,227.5 337.5,240.9 339.5,251 342.5,262.5 345.5,272 349.5,282.7 353.5,291.5 358.5,300.7 363.5,308.3 370.5,317.1 377.6,324.5 381.5,327.7 385,329.5 393.5,331 397.5,331.2 402.5,330.7 408.4,329.5 424.5,325.5 434.1,322.5 443.4,318.5 450.4,314.5 458.5,308.5 467.4,300.5 474.5,292.9 482.5,282.6 488.5,273.2 494.5,261.4 498.5,251.1 501.5,240.6 503.5,230.5 504.9,218.5 505.2,205.5 504.5,194.2 502.5,180.4 499.5,168.3 496.5,159.6 491.5,148.8 486.5,140.2 479.5,130.4 472.5,122.1 463.1,112.5 452.6,103.5 442.6,96.5 430.6,89.5 419.3,84.5 409.7,81.5 398.5,79.5ZM427.5,343.3 427.3,343.5 427.5,343.7 427.7,343.5ZM379.5,364.1 379.3,364.5 379.8,364.5ZM380.5,365.5 380.5,365.5 380.5,365.5ZM385.5,371.9 385.2,372.5 385.5,372.7 386,372.5ZM386.5,373.1 386.3,373.5 386.9,373.5ZM392.5,372.8 391.5,373.7 389.5,374.5 389,375.5 393.5,381.5 393.8,380.5 393.5,378ZM394.5,382.4 394.4,382.5 394.5,382.7 394.6,382.5Z"/>
<path fill="#00b3ff" d="M386.7,56.5 395.5,57 407.5,60.2 418.5,65.2 427.5,70.4 439.5,78.6 452.9,89.5 468.5,104.6 477.9,114.5 485.1,123.5 490.7,131.5 496,140.5 501.6,152.5 505.7,164.5 508.5,176.5 510.3,188.5 511.1,199.5 511.1,213.5 510.2,225.5 508.1,238.5 506,247.5 502,260.5 498,270.5 493.1,280.5 487.6,289.5 478.3,301.5 465.5,314.2 450.5,326.1 435.7,336.5 434.4,338.5 433.2,339.5 428.5,342.5 429.7,343.5 428.5,343.8 427.5,343 426.7,343.5 428.2,344.5 417.5,351.4 403.2,361.5 401.5,363.2 398.5,368.3 396.4,373.5 396,375.5 396.1,380.5 399.3,386.5 407.6,399.5 409.3,401.5 408.5,401.8 407,401.5 406.1,400.5 396.2,388.5 388.6,378.5 387.5,377.8 379.5,380.2 376.6,381.5 368.5,387.5 364.9,394.5 364.5,396.2 364.3,394.5 366.5,387.9 367.2,386.5 372.4,381.5 374,378.5 375.5,377.2 378.5,375.6 380.5,375.6 381.5,376.7 384.5,376.1 385.5,375.5 384.5,374.8 382.5,374.3 380.5,373.1 378,370.5 376.7,368.5 375.8,366.5 375.6,364.5 376.5,363.6 378.5,364 379.5,364.8 380.4,364.5 369.5,349.8 363.5,343.2 358.9,336.5 354.5,328.3 349.4,317.5 342.5,301.4 335.5,281.5 331.5,266.5 328.5,251.5 326.5,238.5 324.4,217.5 323.7,202.5 323.6,184.5 324.2,168.5 325.2,158.5 327.8,138.5 329.6,128.5 331.8,119.5 336.7,104.5 342.5,91.8 348.8,80.5 353.9,73.5 360.5,66.8 363.5,64 366.5,62 372.5,59.1 380.5,56.8ZM385.5,79.4 379.5,81.2 375.8,83.5 371.5,87.6 365.5,94.6 360.5,101.7 356.5,108.5 349.5,122.1 345.5,130.9 339.5,147.6 337.5,155.1 335.5,165.5 333.1,186.5 332.8,195.5 333,205.5 333.7,215.5 335.5,231.8 337.5,244.2 339.5,253.7 342.5,264.8 345.5,274.1 349.5,284.6 353.5,293.2 358.5,302.2 363.5,309.7 370.5,318.3 377.5,325.6 381.5,328.7 385.2,330.5 393.5,331.9 397.5,332 407.1,330.5 426.6,325.5 435.5,322.5 444.4,318.5 452.5,313.6 460.3,307.5 468.5,299.9 476.5,291.1 484.5,280.3 490.5,270.3 495.5,259.9 499.5,249.1 502.5,237.6 504.5,225.7 505.5,213.5 505.4,202.5 504.5,191.3 502.5,178.8 499.5,167.2 495.5,156.3 490.5,146.2 484.5,136.6 477.5,127.3 468.5,117.2 459.3,108.5 449.3,100.5 437.1,92.5 425.7,86.5 415.4,82.5 403.6,79.5 394.5,78.6ZM425.5,344.4 425.5,344.6 426.2,344.5ZM424.5,345.3 423.7,345.5 424.5,345.6ZM422.5,346.1 421.8,346.5 422.5,346.7 422.8,346.5ZM420.5,347.4 420.3,347.5 420.6,347.5ZM415.5,350.4 415.3,350.5 415.6,350.5ZM412.5,352.4 412.3,352.5 412.6,352.5ZM409.5,354.5 409.5,354.5 409.5,354.5ZM380.5,364.6 380.3,365.5 381.2,365.5ZM381.5,365.9 381.4,366.5 382,366.5ZM382.5,367.2 382.4,367.5 382.5,367.6 382.7,367.5ZM384.5,369.9 384.5,371.5 384.9,372.5 388.5,375.2 393.5,381.8 393.8,379.5 393.1,374.5 392.5,372.3 390.5,373.7 388.5,373.9 386.5,372.5ZM393.5,371.2 393.2,371.5 393.5,371.6 393.5,371.5ZM394.5,382.2 394.1,382.5 394.5,383 394.7,382.5ZM396.5,385.3 396.3,385.5 396.5,385.7 396.6,385.5ZM363.4,397.5 363.5,397 363.5,398Z"/>
<path fill="#00dbff" d="M379.1,57.5 387.5,56.7 395.5,57.3 407.5,60.5 412.5,62.5 420.5,66.5 433.5,74.7 446.8,84.5 456.5,93.1 470.5,106.8 478.5,115.5 487.8,127.5 493.6,136.5 498.8,146.5 502.6,155.5 506.3,167.5 509.2,181.5 510.4,191.5 511,203.5 510.8,215.5 509.7,227.5 507,242.5 503.7,254.5 499.9,265.5 494.9,276.5 489.5,286.1 484.5,293.4 479.5,299.7 473.5,306.2 466.5,312.9 450.5,325.7 435,336.5 432.5,339.5 419.5,347.5 420.5,347.9 421.5,347 422.5,347 423.5,346 424.5,346.1 424.8,346.5 417.5,351.2 402.5,362 401.5,363 397.5,370.1 396.5,372.6 395.9,375.5 395.9,380.5 399.1,386.5 407.3,399.5 409,401.5 408.5,401.7 407.3,401.5 405.5,399.5 396.4,388.5 388.8,378.5 387.5,377.6 379.5,380 376.3,381.5 368.5,387.1 367.5,388.6 367,388.5 367.5,386.6 372.8,381.5 373.5,379.5 375.5,377.3 378.5,375.8 380.5,375.9 381.5,377 384.5,376.3 385.8,375.5 384.5,374.5 381.5,373.6 378.2,370.5 376,366.5 376,364.5 376.5,364 378.5,364.3 382.2,367.5 384.1,370.5 384.6,372.5 388.5,375.7 394.5,383.3 394.9,382.5 394,381.5 392.9,372.5 393.7,371.5 393.5,370.3 391.5,372.6 389.5,373.5 387.5,372.7 386.5,371.6 370,349.5 365.1,344.5 361.3,339.5 355.5,329.6 349.5,317 339.8,293.5 335.8,281.5 332.7,270.5 330.7,261.5 327.8,245.5 324.8,220.5 323.8,193.5 323.8,184.5 324.5,167.5 326.2,151.5 328.9,133.5 331.7,120.5 335.5,108.4 338.9,99.5 345.5,86.4 349.1,80.5 354.2,73.5 362.5,65.2 366.5,62.3 372.5,59.3ZM387.5,78.5 382.4,79.5 377.5,81.5 373.5,84.7 367.5,91.2 362.5,97.6 357.5,105.4 351.5,116.7 346.5,127.2 342.5,137.1 339.5,145.9 337.5,153 335.5,162.6 333.5,176.6 332.7,185.5 332.4,202.5 333.3,216.5 334.5,228 336.5,241.5 338.5,251.7 341.5,263.4 344.5,273 348.5,283.8 352.5,292.7 357.5,301.9 362.5,309.6 370.5,319.5 377.3,326.5 381.3,329.5 384.5,331.1 392.3,332.5 396.5,332.7 405.7,331.5 425,326.5 434.2,323.5 443.5,319.4 451.5,314.8 459.5,308.7 467.5,301.4 475.5,292.8 482.7,283.5 488.5,274.5 494.5,262.9 498.7,252.5 502.5,239 504.5,227.9 505.6,216.5 505.7,204.5 504.6,189.5 502.5,177.5 499.5,166.2 496.5,157.9 491.5,147.3 485.5,137.4 478.5,128 470.5,118.8 461,109.5 451.4,101.5 439.7,93.5 426.9,86.5 417.1,82.5 406.5,79.5 396.5,78.1ZM427.3,344.5 427.5,344.4 427.6,344.5 427.5,344.6ZM425.2,345.5 425.5,345.2 426.2,345.5 425.5,345.7ZM418.5,348 417.7,348.5 418.5,348.8 419.3,348.5ZM416.5,349.1 416,349.5 417.6,349.5 417.5,349ZM415.5,349.8 414.6,350.5 415.5,350.8 415.9,350.5ZM413.5,351.1 412.9,351.5 414.2,351.5ZM412.5,351.8 411.6,352.5 412.8,352.5ZM410.5,353.1 410,353.5 411,353.5ZM409.5,353.9 408.8,354.5 409.8,354.5ZM407.5,355.3 407.2,355.5 407.8,355.5ZM406.5,356 405.9,356.5 406.7,356.5ZM403.5,358.1 402.9,358.5 403.7,358.5ZM400.5,360.3 400.3,360.5 400.5,360.6ZM399.5,361.1 399.1,361.5 399.5,361.6ZM398.5,362 398,362.5 398.6,362.5ZM397.5,363.1 397.1,363.5 397.6,363.5ZM396.5,364.3 396.4,364.5 396.5,364.5ZM395.5,365.8 395.1,366.5 395.5,366.7 395.6,366.5ZM394.5,368.2 394.4,368.5 394.5,368.7 394.5,368.5ZM395.5,383.8 395.4,384.5 395.5,384.7 395.7,384.5ZM396.5,385.1 396.1,385.5 396.5,386 396.8,385.5ZM366.3,389.5 366.5,388.7 366.8,389.5 366.5,390.8ZM365.5,392.5 365.5,392.2 365.5,392.7Z"/>
<path fill="#05fffa" d="M380.2,57.5 387.5,57 394.8,57.5 399.5,58.5 406.7,60.5 411.8,62.5 419.9,66.5 432.7,74.5 446.5,84.6 456.5,93.4 470.9,107.5 480.8,118.5 487.6,127.5 493.5,136.7 498.6,146.5 502.5,155.9 506.1,167.5 508.8,180.5 510.2,191.5 510.8,203.5 510.5,216.6 508.9,231.5 506.5,243.5 502.9,256.5 498.8,267.5 493.6,278.5 487.5,288.7 482.6,295.5 475.7,303.5 467.5,311.7 460.5,317.7 447.5,327.5 434.4,336.5 431.3,339.5 415.5,349 401.5,358.7 398,361.5 395.5,364.5 396.5,364.7 401.5,359.8 402.5,359.6 404.5,357.8 405.5,357.5 407.5,355.9 408.5,355.5 416.5,350.1 419.5,348.9 419.9,349.5 404.5,360.3 401.5,362.9 397.5,370 396,374.5 395.7,378.5 396.2,381.5 400.1,388.5 405.5,396.5 407,399.5 408.7,401.5 408.5,401.6 407.5,401.5 397.5,389.5 389.1,378.5 387.5,377.3 379.5,379.8 374.5,382.2 370.5,385.1 370.2,384.5 373.2,381.5 373.7,379.5 374.4,378.5 376.5,376.8 379.5,375.8 381.5,377.2 385.5,376.3 386,375.5 384.5,374.2 381.5,373.4 378.4,370.5 377,368.5 376,365.5 376.5,364.3 377.5,364.1 379.5,365.1 382,367.5 383.9,370.5 384.5,372.7 389,376.5 396.5,386.2 397,385.5 394.2,381.5 393.1,372.5 393.8,371.5 393.7,370.5 394.6,369.5 394.7,367.5 395.7,366.5 395.5,364.6 393.1,369.5 391.5,371.7 389.5,372.7 388.5,372.4 387.5,371.6 371.6,350.5 366.5,345.4 363.3,341.5 358.5,334.2 354.5,326.8 349.5,316.3 342.7,300.5 338,287.5 334,274.5 330.9,261.5 328,245.5 325,220.5 324,193.5 324,184.5 324.7,167.5 326.4,151.5 329.1,133.5 331.9,120.5 335.6,108.5 339.1,99.5 345.5,86.8 349.3,80.5 354.5,73.4 362.5,65.5 366.7,62.5 372.9,59.5ZM392.5,77.5 385.5,78.2 380.6,79.5 376.5,81.5 372.9,84.5 366.5,91.5 360.5,99.5 355.5,107.8 350.5,117.5 345.5,128.2 341.5,138.4 338.5,147.6 336.5,155.4 334.5,166 333.1,176.5 332.1,188.5 331.9,198.5 332.5,211.5 333.5,223.2 335.5,238.3 337.5,249.3 340.5,261.7 343.5,271.7 347.5,282.9 351.5,292.1 356.5,301.5 361.5,309.3 368.5,318.2 376.2,326.5 380.5,329.9 384.5,331.9 391.5,333.1 396.5,333.4 406.5,332 425.5,326.9 434.5,323.9 443.5,319.9 450.5,315.9 458.5,310 466.5,302.9 474.5,294.5 481.7,285.5 488.9,274.5 493.7,265.5 498.7,253.5 502,242.5 504.5,229.9 505.8,218.5 506,206.5 505.5,195.5 503.6,181.5 500.5,168.5 497.5,159.7 493.5,150.5 487.5,139.9 481.5,131.3 473.5,121.5 463.7,111.5 454.5,103.5 443.5,95.5 431.8,88.5 421.1,83.5 412.5,80.5 402.5,78.2ZM421.8,347.5 422.5,347.3 422.8,347.5 422.5,347.7ZM419.9,348.5 420.5,348.1 421.5,348.5 420.5,348.9ZM369.2,385.5 369.5,385.2 370,385.5 369.5,385.8ZM368.3,386.5 368.5,386.3 368.7,386.5 368.5,386.6ZM397.5,386.4 397.2,386.5 397.5,387.5 397.7,386.5ZM398.5,388.1 398.2,388.5 398.5,388.8 398.8,388.5ZM399.5,389.3 399.3,389.5 399.5,389.7 399.7,389.5Z"/>
<path fill="#2effd1" d="M384.4,57.5 393.5,57.8 403.5,59.9 413.5,63.6 424.5,69.5 438.5,78.8 450.5,88.3 466.5,103.3 477.5,114.9 485.5,124.9 492.6,135.5 497.5,144.6 502.2,155.5 505.7,166.5 507.9,176.5 509.8,189.5 510.6,203.5 510.5,213.5 509.5,225.6 507.5,238 504.5,250.3 500.5,262.5 496.5,272 490.5,283.4 484.5,292.5 479.5,298.8 473.5,305.5 461.5,316.5 448.3,326.5 431.5,338.2 409.7,351.5 399.5,358.7 396.5,361.3 394.7,363.5 391.5,369.9 390.5,370.8 389.5,371.2 388.5,370.8 387.5,369.7 373.7,351.5 369.2,347.5 365.5,343.6 360.5,336.7 355.8,328.5 351.5,319.9 346.5,308.8 341.5,296.4 337.3,284.5 334.3,274.5 331.2,261.5 329.2,251.5 327.2,238.5 325.7,226.5 324.8,214.5 324.2,199.5 324.1,184.5 324.8,168.5 328.4,138.5 330.2,128.5 332.4,119.5 336.2,107.5 339.3,99.5 345.5,87.2 349.5,80.6 354.9,73.5 360.5,67.7 364.3,64.5 371.4,60.5 377.5,58.5ZM387.5,77.4 382.1,78.5 377.2,80.5 373.2,83.5 367.5,89.5 362.5,95.8 357.5,103.4 352.5,112.4 346.5,124.8 343.5,131.8 339.5,142.9 335.5,158.1 333.5,170.1 332.3,180.5 331.6,192.5 331.6,202.5 333.5,226.8 335.5,240.9 337.5,251.5 340.5,263.5 343.5,273.4 347.5,284.4 351.5,293.4 357,303.5 362.5,311.8 369.6,320.5 376.5,327.7 380.5,330.7 384.5,332.6 391.5,333.8 397.5,334 406.5,332.6 426.5,327.1 435.5,324 444.5,319.8 452.5,315 460.5,308.8 468.5,301.4 476.7,292.5 484.2,282.5 489.9,273.5 495.8,261.5 499.7,251.5 502.8,240.5 504.9,229.5 506.1,216.5 506.2,203.5 505.3,191.5 503.5,179.6 500.5,167.5 496.5,156.5 491.5,146.1 485.6,136.5 478.5,127 470.5,117.8 460.9,108.5 451.2,100.5 439.5,92.5 428.8,86.5 416.9,81.5 406.5,78.5 396.5,77.1ZM420.4,348.5 420.5,348.4 420.7,348.5 420.5,348.6ZM418.4,349.5 418.5,349.4 419.6,349.5 418.5,349.7ZM416.5,350.5 417.5,350.2 418,350.5 417.5,350.7ZM415,351.5 416.5,350.5 416.6,351.5 404.5,360.1 401.5,362.7 397.5,369.9 396.5,372.1 395.8,375.5 395.7,380.5 398.7,386.5 399.1,387.5 398.5,387.7 394.4,381.5 393.7,377.5 393.4,372.5 395.9,365.5 401.5,360.2ZM376.8,364.5 378.5,364.7 381.8,367.5 383.7,370.5 384.5,373.1 385.1,373.5 384.5,373.9 382.5,373.8 379.4,371.5 376.7,367.5 376.2,365.5ZM385.1,374.5 385.5,373.9 386.5,374.5 388.5,376.2 390.2,378.5 389.5,378.8 387.5,376.8 386.5,376.8 386.3,375.5ZM377.4,376.5 379.5,376 380.4,376.5 380.5,377.7 385.5,377 386.2,377.5 380.5,379 376.5,381.2 374.5,381.8 373.5,381.5 373.8,379.5 375.5,377.7ZM390.2,379.5 390.5,378.7 390.9,379.5 390.5,380ZM391,380.5 391.5,380.1 393.3,382.5 392.5,382.7ZM372.7,382.5 373.5,381.6 373.7,382.5ZM393.2,383.5 393.5,382.6 394,383.5 393.5,384ZM394,384.5 394.5,384 394.8,384.5 394.5,385.4ZM394.6,385.5 395.5,385.3 397,387.5 396.5,387.9ZM397.1,388.5 397.5,388 397.9,388.5 397.5,389.1ZM399.2,388.5 399.5,387.7 399.8,388.5 399.5,388.9ZM398,389.5 398.5,389.2 398.9,389.5 398.5,390.4ZM400.2,389.5 400.5,389.2 400.6,390.5 401.5,390.9 401.7,391.5 400.5,392.8 400.5,390.7 400.3,391.5 399.5,391.6 398.6,390.5 399.5,390.2ZM402.2,392.5 402.5,392.3 402.5,393.1 401.5,393.9 401.2,393.5ZM402.2,394.5 402.5,393.8 403.5,394.1 404.5,395.8 403.5,396.5ZM404.4,397.5 404.5,396.9 405.5,397.5 404.5,397.6ZM405.3,398.5 405.5,397.5 406.3,398.5ZM406.3,399.5 406.5,398.7 406.7,399.5 406.5,399.8ZM407.4,400.5 407.6,400.5 407.5,400.7Z"/>
<path fill="#57ffa8" d="M379.9,58.5 388.5,57.9 394.5,58.4 399.5,59.3 409.8,62.5 420.5,67.5 434.7,76.5 447.5,86 457.5,94.8 473.5,110.7 481.9,120.5 489.9,131.5 495.5,141.1 500.5,151.6 504.6,163.5 507.6,175.5 509.5,188.5 510.3,199.5 510.4,210.5 509.5,223.8 507.5,236.8 504.5,249.4 500.5,261.7 495.5,273.5 489.5,284.5 483.5,293.3 475.5,302.9 466.8,311.5 458.4,318.5 444.9,328.5 423.5,342.6 411.5,349.7 402.5,353.9 399.5,355 393.5,356.1 386.5,356.1 381.5,354.9 375.5,351.9 370.5,348.1 365.5,342.8 361.5,337.4 356.5,329 351.5,319 345.5,305.6 340.5,292.8 336.5,281.1 333.3,269.5 330.4,256.5 327.4,238.5 325.4,220.5 324.7,209.5 324.4,183.5 324.9,170.5 326,158.5 328.5,139 330.4,128.5 333.4,116.5 337.4,104.5 340.4,97.5 346.5,85.9 351.5,78.3 356.2,72.5 361.5,67.2 366.5,63.5 372.6,60.5ZM384.5,77.4 378.5,79.3 374.9,81.5 369.6,86.5 363.5,93.7 358.5,100.9 354.5,107.7 348.5,119.4 343.5,130.7 339.5,141.7 337.2,149.5 335.3,157.5 333.5,167.5 331.4,188.5 331.5,207.5 332.4,220.5 333.8,232.5 335.5,243.4 338,255.5 341.2,267.5 344.5,277.8 348.2,287.5 352.4,296.5 356.9,304.5 362.2,312.5 370.5,322.5 376.5,328.6 380.5,331.5 384.5,333.4 391.5,334.6 397.5,334.7 407.5,333 426.5,327.7 436.5,324.1 445.5,319.8 453.5,314.8 462.5,307.6 471,299.5 478,291.5 486,280.5 491.9,270.5 497.1,259.5 501,248.5 504,236.5 505.8,224.5 506.6,212.5 506.4,201.5 505.1,187.5 502.9,175.5 499.8,164.5 495.9,154.5 490.5,143.8 484.5,134.5 477.5,125.3 468.5,115.3 458,105.5 447.7,97.5 436.9,90.5 425.5,84.5 415.3,80.5 403.5,77.5 393.5,76.6ZM417.4,350.5 417.5,350.5 417.6,350.5 417.5,350.5ZM415.4,351.5 415.5,351.4 415.9,351.5 415.5,351.7ZM413.9,352.5 414.5,352.3 414.8,352.5 414.5,352.7ZM412.2,353.5 413.5,353.1 413.6,353.5 412.5,354ZM410.6,354.5 411.5,354.1 412.1,354.5 411.5,354.8ZM409.1,355.5 410.5,354.6 410.8,355.5 401.5,362.6 396.7,371.5 395.7,375.5 395.5,378.5 395.6,380.5 396.9,383.5 396.5,384.3 394.5,381.1 393.5,373.5 394.1,370.5 396.1,365.5 401.5,360.5ZM376.4,365.5 377.5,364.6 378.5,364.9 380.7,366.5 383,369.5 384.6,373.5 382.5,373.6 379.5,371.5 377.3,368.5ZM385.5,374.5 385.5,374.5 385.6,374.5 385.5,374.5ZM377.8,376.5 379.5,376.2 380.1,376.5 380.5,378.3 381.3,378.5 380.5,378.6 376.5,381 374.5,381.4 373.7,380.5 374,379.5 375.5,377.8ZM388.4,376.5 388.5,376.5 388.5,376.6ZM390.5,379.5 390.5,379.4 390.6,379.5ZM391.4,380.5 391.5,380.5 391.5,380.6ZM393.5,383.5 393.5,383.4 393.6,383.5ZM394.4,384.5 394.5,384.5 394.5,384.6ZM397.1,384.5 397.6,384.5 397.8,385.5 397.5,385.7ZM398.4,386.5 398.5,386.4 398.5,386.8ZM396.5,387.5 396.5,387.4 396.6,387.5ZM397.5,388.5 397.5,388.4 397.5,388.5 397.5,388.6ZM399.5,388.5 399.5,388.5 399.5,388.5Z"/>
<path fill="#80ff80" d="M383.7,58.5 392.5,58.6 403.5,60.8 414.5,64.9 424.9,70.5 438.5,79.5 448.5,87.1 462.5,99.9 475.8,113.5 482.5,121.5 489.7,131.5 495.5,141.4 500.7,152.5 504.5,163.6 507.6,176.5 509.5,190 510.2,201.5 509.9,215.5 508.5,229.5 506.5,240.4 503.5,251.8 499.5,263.5 494.5,274.8 488.5,285.4 482.5,294 474.5,303.4 466.2,311.5 456.5,319.5 442.7,329.5 421.1,343.5 410.7,349.5 401.5,353.5 396.5,354.9 391.5,355.6 384.5,354.9 378.5,352.8 373.1,349.5 367.5,344.4 362.5,338 358.5,331.7 353.5,322.3 346.5,307.1 341.5,294.6 337.5,283.3 334.5,273.3 331.5,260.8 328.5,244.6 326.5,229.9 325.3,216.5 324.7,202.5 324.5,185.5 325,172.5 326.1,159.5 327.9,144.5 331.5,124.5 333.5,116.9 337.5,104.9 341.5,95.9 346.5,86.5 352.5,77.6 358.6,70.5 364.3,65.5 369.5,62.4 376.5,59.7ZM388.5,76.4 382.5,77.5 377.5,79.3 373.5,82 368.5,87 362.5,94.3 357.5,101.7 352.5,110.6 346.5,122.7 342.5,132.2 338.8,142.5 336.5,150.5 334.5,159.5 332.6,171.5 331.5,181.7 330.9,191.5 330.9,201.5 331.5,213.5 332.6,225.5 334.3,238.5 336.4,250.5 339,261.5 342.2,272.5 346,283.5 350.3,293.5 355.6,303.5 360.7,311.5 367.8,320.5 375.3,328.5 379.5,331.8 383.5,333.8 388.5,335 395.5,335.5 400.5,335.1 405.5,334.1 423.5,329.1 435.5,325.1 444.5,320.9 452.5,316.1 460.5,310 468.5,302.6 476,294.5 483.8,284.5 490.2,274.5 495.7,263.5 500.1,252.5 503,242.5 505.2,231.5 506.7,216.5 506.8,204.5 505.9,191.5 504,179.5 501.6,169.5 497.9,158.5 492.9,147.5 487.6,138.5 480.5,128.6 472.5,119.1 462.9,109.5 453.5,101.5 442.3,93.5 430.4,86.5 419.2,81.5 408.5,78.1 397.5,76.3ZM411.1,354.5 411.5,354.3 411.7,354.5 411.5,354.6ZM409.3,355.5 410.5,355.4 410.5,355.5 409.5,355.8ZM407.9,356.5 408.5,356.2 409,356.5 408.5,356.8ZM406.2,357.5 407.5,357 407.7,357.5 406.5,358.3ZM404.8,358.5 405.5,358.1 406.4,358.5 402.5,361.2 401.4,362.5 396.6,371.5 395.6,375.5 394.9,380.5 394.5,380.6 393.6,373.5 394.3,370.5 396.4,365.5 401.8,360.5ZM376.6,365.5 377.5,364.8 378.5,365 381.5,367.5 383.4,370.5 383.8,372.5 383.5,373.2 382.5,373.4 381.5,373 379.5,371.3 377.4,368.5ZM378.2,376.5 379.7,376.5 380.1,377.5 379.9,378.5 376.5,380.9 374.5,381.2 373.9,380.5 374.9,378.5 376.5,377.2ZM395.1,381.5 395.5,380.7 395.7,382.5 395.5,382.6ZM396.3,383.5 396.5,383 396.5,383.8Z"/>
<path fill="#a8ff57" d="M379.8,59.5 384.5,58.9 389.5,58.9 394.5,59.3 400.5,60.4 411.5,64 421.5,68.9 436.5,78.4 448.5,87.4 459.5,97.2 472.9,110.5 481.5,120.5 488.5,130.1 494.5,139.9 499.6,150.5 503.5,161 506.5,172.2 508.5,183.5 509.8,198.5 509.7,214.5 508.5,227.7 506.5,238.9 503.5,250.6 499.5,262.5 494.5,273.8 488.5,284.6 481.5,294.5 474.5,302.6 465.5,311.5 455.6,319.5 441.7,329.5 421.6,342.5 409.3,349.5 399.6,353.5 395.5,354.5 391.5,354.9 385.3,354.5 379.2,352.5 374.1,349.5 368.5,344.6 363.5,338.6 358.5,330.7 353.5,321.3 348.5,310.7 343.5,298.9 338.5,285.3 335.5,275.8 332.5,264.2 329.5,249.2 327.5,236.3 325.9,221.5 325.1,208.5 324.9,179.5 325.4,168.5 326.5,157.5 329,138.5 330.9,128.5 333.6,117.5 337.5,105.5 341.5,96.4 346.5,87.2 351.5,79.6 357.3,72.5 362.5,67.5 367.5,64 373.5,61.2ZM385.5,76.4 379.5,78 375.5,80 370.5,84.3 365,90.5 360.4,96.5 355.3,104.5 349.5,115.6 344.5,126.3 340.5,136.5 337.5,145.5 335.4,153.5 333.8,161.5 332.1,172.5 330.9,184.5 330.5,194.5 330.7,205.5 331.4,217.5 332.9,231.5 334.9,244.5 336.9,254.5 339.9,266.5 343.3,277.5 347,287.5 351.1,296.5 356,305.5 362,314.5 370.3,324.5 375.5,329.7 380.5,333.3 384.5,335 390.5,336.1 396.5,336.3 405.5,334.9 426.5,329 437.5,325 445.5,321.1 452.5,317 461.5,310 469.5,302.5 476.9,294.5 485.9,282.5 491.9,272.5 495.9,264.5 501,251.5 503.9,240.5 506,228.5 507.1,215.5 507,202.5 505.9,189.5 503.9,177.5 501,166.5 497,155.5 492.1,145.5 485.9,135.5 477.6,124.5 469.5,115.6 459.5,106.1 448.5,97.3 437.5,90.1 426.5,84.2 414.5,79.5 403.5,76.7 394.5,75.7ZM408.3,356.5 408.5,356.4 408.6,356.5 408.5,356.6ZM406.5,357.5 406.5,357.5 407.4,357.5 406.5,357.6ZM405.1,358.5 405.5,358.3 405.9,358.5 405.5,358.7ZM403.4,359.5 404.5,359.1 404.7,359.5 403.5,360.3ZM402,360.5 402.5,360.2 403.4,360.5 402.5,361ZM400.9,361.5 401.5,361 402,361.5 401.1,362.5 400.5,364.4 396.5,371.5 395.5,375.5 395.2,378.5 394.5,379.8 393.7,373.5 395.2,368.5 396.5,365.6ZM376.9,365.5 377.5,365 378.5,365.2 381.3,367.5 383.3,370.5 383.5,372.8 382.5,373.2 381.5,372.8 379.5,371.2 377,367.5ZM376.3,377.5 378.5,376.5 379.5,376.7 379.9,377.5 379.4,378.5 377.5,380.3 375.5,381.1 374.5,380.9 374.1,380.5 374.3,379.5ZM395.4,381.5 395.5,381.3 395.5,381.7Z"/>
<path fill="#d1ff2e" d="M383.4,59.5 392.5,59.5 402.5,61.4 411.7,64.5 423.5,70.4 438.5,80.1 449.5,88.5 462.5,100.3 474.5,112.5 483.5,123.4 490.5,133.5 496.5,144.2 500.5,153.1 503.5,161.6 506.5,173.2 508.5,184.8 509.7,199.5 509.5,214.9 508.5,225.2 505.5,240.5 504.8,239.5 504.8,238.5 506.3,231.5 507.4,216.5 507.4,205.5 506.9,195.5 505.8,186.5 503.8,175.5 501,165.5 498.1,157.5 495,150.5 490.1,141.5 484.8,133.5 478.7,125.5 471.7,117.5 463.7,109.5 456.5,103.1 448.5,97 434.5,88 422.5,82 415.5,79.4 408.5,77.3 402.5,76.1 395.5,75.4 390.5,75.4 384.5,76.2 380.5,77.2 376.5,78.9 373.5,81 370.5,83.7 362.5,93 355.5,103.4 348.5,116.7 342.4,130.5 337.2,145.5 334.2,157.5 331.8,172.5 330.4,187.5 330.2,200.5 331.2,219.5 333.8,240.5 337.1,257.5 341.1,272.5 345.9,286.5 351.8,299.5 358.9,311.5 367.3,322.5 373.5,329.2 379.5,333.9 384.5,336.1 388.5,336.9 393.5,337.4 400.5,337 409.5,335 429.5,329.4 441.5,324.6 451.5,319 458.5,314 467.5,306.1 474.8,298.5 482.9,288.5 487.7,281.5 491.9,274.5 496.9,264.5 497,263.5 497.9,262.5 497.9,261.5 499.1,258.5 499.5,257.9 500.1,258.5 499.5,260.3 499,260.5 499.1,261.5 498,264.5 493.8,273.5 488.8,282.5 484.8,288.5 478.7,296.5 474.5,301.1 462.5,312.7 453.5,319.8 443.5,326.9 424.7,339.5 414.9,345.5 409.4,348.5 402.7,351.5 396.2,353.5 390.5,354.1 384.5,353.5 378.9,351.5 372.7,347.5 367.5,342.5 361.5,334.5 357.5,327.7 352.5,318 346.5,305.1 341.5,292.7 337.5,281.3 334.5,271.1 331.5,258.4 328.5,241.7 326.5,226 325.5,213.9 325.1,202.5 324.9,185.5 325.3,172.5 326.5,159.5 328.4,144.5 330.2,133.5 332.5,122.6 335.5,112 338.5,103.8 343.5,93.2 348.5,84.7 354.5,76.4 359.5,70.8 364.5,66.5 370.5,62.9 376.5,60.8ZM504.5,241.5 505.1,242.5 504.5,244.4 503.8,243.5ZM503.4,245.5 503.5,245.2 504.1,246.5 503.5,248.2 502.9,247.5ZM502.1,249.5 502.5,248.8 503.1,249.5 502.5,251.6 501.9,250.5ZM501.2,252.5 501.5,251.9 502,252.5 501.5,254.9 500.9,253.5ZM500.2,255.5 500.5,255 501,255.5 500.5,257.8 499.9,256.5ZM404.5,359.5 404.5,359.5 404.5,359.5 404.5,359.5ZM402.3,360.5 402.5,360.4 402.9,360.5 402.5,360.7ZM401.2,361.5 401.5,361.2 401.8,361.5 401.5,361.8ZM400.1,362.5 400.5,362.1 400.9,362.5 400.8,363.5 396.4,371.5 395,378.5 394.5,379.3 393.9,376.5 393.9,372.5 396.5,365.9ZM377.2,365.5 378.5,365.3 381.2,367.5 383.1,370.5 383.4,372.5 382.5,373 381.5,372.7 379,370.5 377.2,367.5ZM376.4,377.5 378.5,376.7 379.5,377.1 379.7,377.5 379.3,378.5 377.5,380.1 375.5,380.9 374.5,380.7 374.5,379.5Z"/>
<path fill="#faff05" d="M379.8,60.5 384.5,59.9 389.5,59.8 399.5,61.1 409.5,64.1 419.5,68.6 432.5,76.4 445.4,85.5 456.5,95 471.5,109.6 479.5,118.6 487.5,129.3 494.5,140.7 499.5,151.2 503.5,162.3 506.5,174.3 508.5,186.9 509.4,199.5 509.4,206.5 508.5,219.4 508,216.5 508,205.5 507.1,193.5 505,179.5 501,164.5 495.8,151.5 492.2,144.5 487.9,137.5 483,130.5 476.6,122.5 470.2,115.5 463.5,108.9 450.5,98.1 437.5,89.3 429.5,84.9 423.5,82.1 416.5,79.4 409.5,77.2 403.5,75.9 397.5,75.1 391.5,75 386.5,75.4 381.5,76.5 377.5,77.9 374.5,79.7 371.5,82.2 363.2,91.5 358.8,97.5 355,103.5 346.3,120.5 340.1,135.5 335.2,151.5 332.1,167.5 330,187.5 329.9,204.5 331.2,223.5 333.2,239.5 336.1,255.5 339.9,270.5 345.2,286.5 349.9,297.5 356.9,310.5 366,323.5 372,330.5 376.5,334.7 381.5,337.7 387.5,339.6 394.5,340.3 399.5,340 404.5,339 432.4,330.5 434,330.5 420.4,339.5 407.8,346.5 397.5,350.5 390.5,351.6 387.5,351.5 383.5,350.7 377.9,348.5 372.5,344.8 367.1,339.5 361.7,332.5 358.5,327.5 351.5,314.4 346.5,303.7 338.5,283.1 335.5,273.5 332.5,261.7 329.5,246.4 327.5,232.8 325.4,207.5 325.3,176.5 327.4,153.5 329.5,138.6 331.5,128.1 334.5,116.2 337.5,107.2 341.5,97.9 346.5,88.6 351.5,81 357.5,73.5 362.7,68.5 368.5,64.5 373.5,62.2ZM507.4,225.5 507.5,225.1 507.5,227.9 507.2,226.5ZM506.4,233.5 506.5,232.6 506.5,233.8ZM401.5,361.5 401.5,361.5 401.5,361.5 401.5,361.5ZM400.3,362.5 400.7,362.5 400.8,363.5 396.3,371.5 394.5,379.1 393.8,373.5 394.7,370.5 396.5,366.1ZM377.4,365.5 378.5,365.5 379.5,366 381.5,368 383,370.5 383.1,372.5 382.5,372.8 381.5,372.5 379.1,370.5 377.3,367.5 377.1,366.5ZM376.7,377.5 378.5,376.9 379.5,377.5 379.1,378.5 377.5,380 375.5,380.8 374.6,380.5 374.6,379.5Z"/>
<path fill="#ffdb00" d="M383.4,60.5 392.5,60.5 402.5,62.3 412.5,65.7 424,71.5 436.7,79.5 448.7,88.5 462.1,100.5 474.5,113.1 481.6,121.5 489.5,132.7 495.5,143.1 500.5,154.3 503.5,163.2 506.5,175.8 508.5,190.8 508.8,199.5 508.5,202.3 508,197.5 508.1,194.5 507.5,193 506.1,182.5 504.1,173.5 500,160.5 494.2,147.5 487,135.5 478.7,124.5 468.7,113.5 458.5,104 445.5,94.1 432.5,86.1 419.5,80.1 407.5,76.3 396.5,74.6 390.5,74.6 385.5,75.2 380.5,76.3 376.5,78 373.5,80 370.5,82.6 361.9,92.5 355.2,102.5 346.3,119.5 340.1,134.5 335,150.5 332.2,164.5 330.1,181.5 329.4,196.5 330,215.5 332.1,235.5 335.1,253.5 340,273.5 344.2,286.5 349.4,300.5 357,314.5 370.5,335.5 369.5,335.6 365.5,332.1 361.5,327.3 357.5,321.5 351.5,311.2 347,302.5 342.6,292.5 338.5,281.6 335.5,272 332.5,260.2 330.5,250.4 327.5,230.7 326.5,221 325.5,204.5 325.5,177.6 327.5,154.6 329.5,140.2 331.5,129.4 333.5,120.9 336.5,110.9 339.5,103.1 342.5,96.7 346.5,89.4 351.5,81.7 356.5,75.3 362.2,69.5 366.5,66.3 371.6,63.5 377.5,61.5ZM399.4,363.5 400.5,362.6 400.5,363.9 396.3,371.5 394.5,378.9 393.9,373.5 394.8,370.5 396.5,366.4ZM377.2,366.5 377.5,365.8 378.5,365.7 381,367.5 382.9,370.5 383.1,371.5 382.7,372.5 381.5,372.4 379.5,370.8 377.9,368.5ZM376.9,377.5 378.5,377 379.3,377.5 379,378.5 377.5,379.9 376.5,380.4 375.1,380.5 374.8,379.5Z"/>
<path fill="#ffb300" d="M380.1,61.5 387.5,60.8 396.2,61.5 404.5,63.4 413.2,66.5 421.5,70.5 434.5,78.4 444.5,85.5 454.2,93.5 464.9,103.5 474.5,113.4 480.5,120.5 488.5,131.6 494.5,141.8 499.5,152.5 503.2,163.5 505.1,171.5 504.5,172.4 503.7,170.5 503.9,169.5 502.8,167.5 500.2,159.5 495.2,148.5 490,139.5 483.1,129.5 474.8,119.5 464.5,109 455.5,101.1 444.5,93 433.5,86.2 423.5,81.3 412.5,77.3 403.5,75 394.5,74.1 385.5,74.7 380.5,75.9 377.5,77 372.5,80.2 364.6,88.5 357.2,98.5 351.9,107.5 344.1,123.5 338.9,136.5 334.9,149.5 332.1,162.5 330.1,176.5 329,190.5 329,204.5 330.1,222.5 332,239.5 335.1,257.5 337.6,269.5 338.4,271.5 338.6,273.5 339.2,274.5 339.4,276.5 340.1,277.5 340.3,279.5 341,280.5 341.2,282.5 341.9,283.5 344.1,290.5 347.5,298.5 347.8,300.5 347.5,300.7 344.4,294.5 340,283.5 334.6,266.5 330.5,248.3 327.5,227.9 326.2,212.5 325.6,186.5 326.5,165.9 328.5,148.9 331.5,130.8 335.5,115 340.5,101.7 346.5,90.2 354.5,78.4 358.5,73.8 362.5,69.9 366.5,66.9 370.6,64.5 375.5,62.6ZM504.9,174.5 505.5,173.6 506,175.5 505.5,176.6ZM506.1,179.5 506.5,178.9 506.8,180.5 506.5,181.9ZM507.3,186.5 507.5,185.9 507.5,188 507.4,187.5ZM348.4,301.5 348.5,301.3 348.5,301.9ZM399.8,363.5 400.5,362.9 400.5,363.8 396.2,371.5 394.5,378.6 394,373.5 394.8,370.5 396.4,367.5 396.6,366.5ZM377.4,366.5 378.5,365.8 380.8,367.5 382.8,370.5 383,371.5 382.5,372.4 381.5,372.2 379.4,370.5 378,368.5ZM377.1,377.5 378.5,377.2 379,377.5 378.8,378.5 377.5,379.8 375.5,380.5 375,379.5 375.7,378.5Z"/>
<path fill="#ff8a00" d="M384.7,61.5 391.3,61.5 398.5,62.5 406.5,64.5 412,66.5 418.6,69.5 427.6,74.5 438.5,81.5 446.6,87.5 452.7,92.5 463.6,102.5 471.5,110.5 478.5,118.5 484.5,126.3 490.5,135.4 494.5,142.5 498.2,150.5 497.5,151.4 496.7,150.5 496.6,149.5 495.7,148.5 492,141.5 482.9,128.5 477.1,121.5 470.7,114.5 461.5,105.7 454.5,99.9 446.5,93.9 437.5,88.1 428.5,83.2 419.5,79.2 410.5,76.2 401.5,74.3 393.5,73.6 386.5,74.1 379.5,75.7 374.5,78.2 369.5,82.4 363.2,89.5 357.3,97.5 352,106.5 345,120.5 339.9,132.5 336.2,143.5 333,155.5 331,166.5 329.2,180.5 328.2,199.5 328.8,218.5 329.4,222.5 329.5,228.5 330.3,231.5 330.4,236.5 331.1,238.5 331.3,243.5 332,244.5 332.2,248.5 333,250.5 333.1,253.5 334.1,256.5 334,258.5 333.5,259.3 333,255.5 332.1,253.5 331.9,250.5 330.9,247.5 330.8,244.5 330,242.5 327.8,226.5 326.5,211.3 326,189.5 326.4,170.5 327.5,158.9 330.5,137.7 333.5,123.5 337.5,110.1 341.5,100.5 347.5,89.3 355.5,78 361.5,71.5 368.5,66.2 375.5,63.2 379.5,62.2ZM497.8,152.5 498.5,151.6 499,152.5 499,153.5 499.5,153.9 500,155.5 499.5,156.2ZM499.9,157.5 500.5,156.8 500.9,157.5 500.5,158.7ZM501,160.5 501.5,159.8 501.8,160.5 501.5,161.2ZM502.1,163.5 502.5,163 502.8,163.5 502.5,164.3ZM503.3,166.5 503.5,166.2 503.5,167.7 503.4,167.5ZM504.4,170.5 504.5,170.3 504.5,171.3ZM334,259.5 334.5,259.3 334.9,260.5 334.5,263.4ZM335.2,264.5 335.5,263.6 335.9,265.5 335.5,267.1ZM336.3,268.5 336.5,267.8 336.8,269.5 336.5,270.7ZM337.3,272.5 337.5,271.5 337.5,273.8 337.4,273.5ZM338.4,275.5 338.5,275.3 338.5,276.8 338.4,276.5ZM400.2,363.5 400.5,363.3 400.5,363.6ZM398.8,364.5 399.5,363.8 399.9,364.5 396.1,371.5 394.5,378.4 394.1,373.5 394.9,370.5 396.6,367.5 396.7,366.5ZM377.6,366.5 378.5,366 380.7,367.5 382.7,370.5 382.5,372.1 381.5,372.1 379.5,370.5 378.1,368.5ZM377.4,377.5 378.7,377.5 378.7,378.5 377.5,379.6 375.5,380.1 375.2,379.5 375.9,378.5Z"/>
<path fill="#ff6100" d="M381.3,62.5 387.5,62 394.5,62.4 400.6,63.5 407.7,65.5 415.3,68.5 421.4,71.5 437.7,81.5 444.7,86.5 454.5,94.5 468.5,108 475.5,115.5 480.4,121.5 486.2,129.5 490.1,135.5 489.5,136.3 487.9,134.5 487.8,133.5 485.8,131.5 482.4,126.5 478.1,121.5 462.5,106 455.5,100 447.5,94 433.5,85.2 425.5,81.2 417.5,77.9 411.5,76 403.5,74.1 396.5,73.2 390.5,73.2 384.5,73.9 379.5,75.2 375.5,77 371.5,79.9 366.9,84.5 361.1,91.5 353.1,103.5 344,121.5 338,136.5 333.1,152.5 331,162.5 328.7,176.5 327.5,190.8 326.9,190.5 326.6,189.5 326.6,174.5 327.5,162.4 329.5,146.3 331.5,134.3 333.5,125 336.5,114.2 339.5,106 343.5,97.4 348.5,88.6 353.5,81.3 359.5,74.2 364.5,69.6 369.5,66.3 375.5,63.8ZM490.4,136.5 491.8,138.5 491.8,139.5 491.5,139.8 491,138.5 490,137.5ZM492,140.5 492.5,139.9 492.9,140.5 492.5,141.1ZM493.1,142.5 493.5,142 493.9,142.5 493.5,143ZM494.2,144.5 494.5,143.9 494.8,144.5 494.5,144.9ZM495.3,146.5 495.5,146 495.7,146.5ZM496.3,148.5 496.5,148.1 496.7,148.5ZM497.3,150.5 497.5,150.2 497.7,150.5 497.5,150.7ZM498.4,152.5 498.5,152.4 498.5,152.6ZM327.5,204.5 327.5,204.2 327.9,212.5 327.5,217.7 327.1,210.5ZM328.3,222.5 328.5,221.6 328.8,224.5 328.5,227.7ZM329.4,231.5 329.7,233.5 329.5,235.3 329.3,233.5ZM330.5,239.5 330.5,239.4 330.5,241.8 330.4,240.5ZM331.5,246.5 331.5,246.2 331.5,247.3ZM399,364.5 399.5,364 399.8,364.5 396,371.5 394.5,378.1 394.2,373.5 395,370.5 396.7,367.5 396.9,366.5ZM377.9,366.5 378.5,366.2 380.6,367.5 382.5,370.5 382.5,371.8 381.5,371.9 379.5,370.4 378.2,368.5ZM376.1,378.5 377.5,377.6 378.5,378.5 376.5,379.9 375.4,379.5Z"/>
<path fill="#ff3800" d="M379.9,63.5 389.5,62.8 396.5,63.5 401.7,64.5 413.6,68.5 425.5,74.5 439.6,83.5 451.5,92.6 464.5,104.6 474,114.5 478,119.5 477.5,120 466.5,108.5 457.5,100.5 452.5,96.6 439.5,87.8 426.5,80.9 413.5,75.9 406.5,74 400.5,73 394.5,72.6 388.5,72.8 382.5,73.8 378.5,75 374.5,77 370.5,80.1 361.2,90.5 353.1,102.5 343.9,120.5 336.9,137.5 331.5,154.5 327.9,175.5 327.5,184.1 327.2,175.5 328,163.5 331.5,136.7 335.5,119.1 337.5,112.6 340.5,104.8 344.5,96.5 348.5,89.5 353.5,82.2 359.5,75.1 364.4,70.5 368.8,67.5 373.5,65.3ZM478,120.5 478.5,120 478.9,120.5 478.5,121ZM479.1,121.5 479.5,121.1 479.8,121.5 479.5,122.2ZM480.1,122.5 480.6,122.5 480.8,123.5 480.5,123.7ZM481.2,124.5 481.5,124 481.8,124.5 481.5,124.8ZM482.2,125.5 482.5,125.2 482.8,125.5 482.5,125.8ZM483.4,126.5 483.6,126.5 483.5,126.9ZM484.3,128.5 484.5,128.2 484.7,128.5 484.5,128.7ZM485.3,129.5 485.5,129.3 485.7,129.5 485.5,129.7ZM487.4,132.5 487.5,132.4 487.6,132.5 487.5,132.6ZM489.5,135.5 489.5,135.5 489.5,135.5 489.5,135.5ZM399.2,364.5 399.5,364.2 399.5,364.9ZM397.9,365.5 398.5,365 399.1,365.5 395.9,371.5 394.5,377.7 394.2,373.5 396,368.5ZM378.2,366.5 379.5,366.7 380.5,367.5 382,369.5 382.5,371.5 381.5,371.8 379.5,370.2 378.3,368.5 378,367.5ZM376.3,378.5 377.5,377.9 378.2,378.5 376.5,379.8 375.6,379.5Z"/>
<path fill="#ff0f00" d="M380,64.5 387.5,64 395.5,64.5 404.5,66.6 413.5,69.8 424.5,75.2 437.5,83.1 447.5,90.3 458.5,99.5 457.5,99.8 444.5,90 431.5,82.1 418.5,76.3 409.5,73.4 399.5,71.7 390.5,71.7 382.5,72.9 376.5,75.1 373.5,76.9 370.5,79.3 362.9,87.5 356.2,96.5 350.2,106.5 337.5,132.5 332,149.5 330.5,156.6 329.8,157.5 329.5,161.8 329.5,156.5 329.9,155.5 330.4,149.5 334.5,125.5 338.5,111.4 341.5,103.9 344.5,97.8 347.5,92.4 352.5,84.7 356.5,79.5 362.1,73.5 365.7,70.5 370.6,67.5 375.7,65.5ZM458.2,100.5 458.5,99.5 461.7,102.5 461.5,103.1ZM461.8,103.5 462.5,103.3 462.7,103.5 462.5,104ZM463,104.5 463.5,104.3 463.7,104.5 463.5,104.9ZM464.2,105.5 464.5,105.3 464.7,105.5 464.5,105.8ZM465.2,106.5 465.5,106.3 465.7,106.5 465.5,106.7ZM466.3,107.5 466.5,107.4 466.6,107.5 466.5,107.7ZM467.4,108.5 467.5,108.4 467.6,108.5 467.5,108.6ZM468.4,109.5 468.5,109.4 468.6,109.5 468.5,109.6ZM469.4,110.5 469.5,110.4 469.6,110.5 469.5,110.6ZM470.5,111.5 470.5,111.5 470.5,111.5 470.5,111.5ZM399.4,364.5 399.5,364.4 399.5,364.6ZM398.1,365.5 398.5,365.1 398.9,365.5 395.8,371.5 394.5,377.4 394.3,373.5 395.2,370.5 396,369.5 396.1,368.5 397,367.5 397.2,366.5ZM378.1,367.5 378.5,366.5 380.5,367.7 381.9,369.5 382.2,370.5 381.9,371.5 381.5,371.6 380.5,371 379.5,370.1ZM376.4,378.5 377.5,378.1 377.9,378.5 376.5,379.6 376.1,379.5Z"/>
<path fill="#e50000" d="M379.8,66.5 385.5,65.8 390.5,65.8 397.5,66.5 402.5,67.5 414.4,71.5 426.1,77.5 425.5,77.8 424.2,77.5 415.5,74.1 408.5,72.1 402.5,70.9 395.5,70.2 389.5,70.3 383.5,71.1 379.5,72.2 374.5,74.5 370.5,77.5 365,83.5 357,93.5 353,99.5 346.8,110.5 341.2,121.5 336.9,131.5 333.5,140.9 333.4,137.5 334.5,131 338.9,113.5 340.6,108.5 343.7,101.5 350.5,89.5 355.5,82.4 358.5,78.9 365.5,72.5 371.5,68.9 376.5,67.2ZM426.4,78.5 426.5,78.2 427.8,78.5 427.5,78.7ZM398.3,365.5 398.8,365.5 398.6,366.5 395.8,371.5 394.5,377 394.4,373.5 395,372.5 395.3,370.5 396.1,369.5 396.2,368.5 397.1,367.5 397.3,366.5ZM378.3,367.5 378.5,366.9 379.5,367 381.5,369.1 382,370.5 381.5,371.4 379.5,369.9ZM377,378.5 377.5,378.4 377.7,378.5 377.5,378.7Z"/>
<path fill="#bd0000" d="M377.9,68.5 382.5,68.1 385.7,68.5 378.5,70.9 372.5,74.2 368.5,77.6 363.1,83.5 356.7,91.5 352,98.5 338.5,123.6 338.2,122.5 338.5,120 340.5,112.9 342.5,107.6 347.5,97.4 354.5,86.5 359.5,80.3 365.5,74.5 371.8,70.5ZM398.4,365.5 398.5,366.5 397.7,367.5 397.5,368.4 397.2,367.5 397.5,366.5ZM378.4,367.5 379.5,367.2 381.5,369.3 381.9,370.5 381.5,371.1 380.5,370.8 379.5,369.8ZM396.3,368.5 396.5,368.2 397.3,368.5 396.5,370.2ZM395.3,370.5 395.5,370.2 396.2,370.5 395.7,371.5 395.5,373.3 395.2,372.5ZM394.5,373.5 394.7,373.5 394.5,376.7 394.4,374.5Z"/>
<path fill="#940000" d="M378.7,367.5 379.5,367.3 381.5,369.5 381.5,370.8 380.5,370.6 379.5,369.6ZM397.4,367.5 397.5,367 397.5,367.9ZM396.4,368.5 396.9,368.5 396.5,369.9 396.4,369.5ZM395.4,370.5 395.9,370.5 395.5,372.9 395.3,372.5ZM394.4,374.5 394.5,373.9 394.5,376.2 394.4,375.5Z"/>
</g></g>
<text x="52.3" y="36.8" font-size="16.3" font-family="Liberation Sans, sans-serif" fill="#262626" text-anchor="end" >2</text>
<text x="52.3" y="86" font-size="16.3" font-family="Liberation Sans, sans-serif" fill="#262626" text-anchor="end" >1.5</text>
<text x="52.3" y="135.2" font-size="16.3" font-family="Liberation Sans, sans-serif" fill="#262626" text-anchor="end" >1</text>
<text x="52.3" y="184.4" font-size="16.3" font-family="Liberation Sans, sans-serif" fill="#262626" text-anchor="end" >0.5</text>
<text x="52.3" y="233.6" font-size="16.3" font-family="Liberation Sans, sans-serif" fill="#262626" text-anchor="end" >0</text>
<text x="52.3" y="282.8" font-size="16.3" font-family="Liberation Sans, sans-serif" fill="#262626" text-anchor="end" >-0.5</text>
<text x="52.3" y="332" font-size="16.3" font-family="Liberation Sans, sans-serif" fill="#262626" text-anchor="end" >-1</text>
<text x="52.3" y="381.2" font-size="16.3" font-family="Liberation Sans, sans-serif" fill="#262626" text-anchor="end" >-1.5</text>
<text x="74.5" y="420.2" font-size="16.3" font-family="Liberation Sans, sans-serif" fill="#262626" text-anchor="middle" >2</text>
<text x="124.3" y="420.2" font-size="16.3" font-family="Liberation Sans, sans-serif" fill="#262626" text-anchor="middle" >2.5</text>
<text x="174.3" y="420.2" font-size="16.3" font-family="Liberation Sans, sans-serif" fill="#262626" text-anchor="middle" >3</text>
<text x="225.2" y="420.2" font-size="16.3" font-family="Liberation Sans, sans-serif" fill="#262626" text-anchor="middle" >3.5</text>
<text x="303.3" y="86.2" font-size="16.3" font-family="Liberation Sans, sans-serif" fill="#262626" text-anchor="end" >1.5</text>
<text x="303.3" y="136.4" font-size="16.3" font-family="Liberation Sans, sans-serif" fill="#262626" text-anchor="end" >1</text>
<text x="303.3" y="186.6" font-size="16.3" font-family="Liberation Sans, sans-serif" fill="#262626" text-anchor="end" >0.5</text>
<text x="303.3" y="236.8" font-size="16.3" font-family="Liberation Sans, sans-serif" fill="#262626" text-anchor="end" >0</text>
<text x="303.3" y="286.8" font-size="16.3" font-family="Liberation Sans, sans-serif" fill="#262626" text-anchor="end" >-0.5</text>
<text x="303.3" y="337" font-size="16.3" font-family="Liberation Sans, sans-serif" fill="#262626" text-anchor="end" >-1</text>
<text x="303.3" y="386.7" font-size="16.3" font-family="Liberation Sans, sans-serif" fill="#262626" text-anchor="end" >-1.5</text>
<text x="324.3" y="422.2" font-size="16.3" font-family="Liberation Sans, sans-serif" fill="#262626" text-anchor="middle" >2</text>
<text x="375.2" y="422.2" font-size="16.3" font-family="Liberation Sans, sans-serif" fill="#262626" text-anchor="middle" >2.5</text>
<text x="427" y="422.2" font-size="16.3" font-family="Liberation Sans, sans-serif" fill="#262626" text-anchor="middle" >3</text>
<text x="477.8" y="422.2" font-size="16.3" font-family="Liberation Sans, sans-serif" fill="#262626" text-anchor="middle" >3.5</text>
<text x="81.7" y="21" font-size="24" font-family="Liberation Serif, serif" fill="#2e2e2e"  textLength="28.3" lengthAdjust="spacingAndGlyphs">(a)</text>
<text x="122.3" y="21" font-size="24" font-family="Liberation Serif, serif" fill="#2e2e2e" font-style="italic" textLength="18.2" lengthAdjust="spacingAndGlyphs">Z</text>
<text x="150.6" y="21" font-size="24" font-family="Liberation Serif, serif" fill="#2e2e2e"  textLength="17.2" lengthAdjust="spacingAndGlyphs">=</text>
<text x="178.3" y="21" font-size="24" font-family="Liberation Serif, serif" fill="#2e2e2e"  textLength="45.5" lengthAdjust="spacingAndGlyphs">26.2</text>
<text x="341.7" y="20" font-size="24" font-family="Liberation Serif, serif" fill="#2e2e2e"  textLength="28.9" lengthAdjust="spacingAndGlyphs">(b)</text>
<text x="382.9" y="20" font-size="24" font-family="Liberation Serif, serif" fill="#2e2e2e" font-style="italic" textLength="18.4" lengthAdjust="spacingAndGlyphs">Z</text>
<text x="410.6" y="20" font-size="24" font-family="Liberation Serif, serif" fill="#2e2e2e"  textLength="17.9" lengthAdjust="spacingAndGlyphs">=</text>
<text x="438.3" y="20" font-size="24" font-family="Liberation Serif, serif" fill="#2e2e2e"  textLength="42.5" lengthAdjust="spacingAndGlyphs">14.1</text>
<text x="70.4" y="51" font-size="20.3" font-family="Liberation Serif, serif" fill="#e6e6fa"  textLength="70.4" lengthAdjust="spacingAndGlyphs">“bundle</text>
<text x="149.5" y="51" font-size="20.3" font-family="Liberation Serif, serif" fill="#e6e6fa"  textLength="18.5" lengthAdjust="spacingAndGlyphs">3”</text>
<text x="321.1" y="51" font-size="20.3" font-family="Liberation Serif, serif" fill="#e6e6fa"  textLength="70.8" lengthAdjust="spacingAndGlyphs">“bundle</text>
<text x="400" y="51" font-size="20.3" font-family="Liberation Serif, serif" fill="#e6e6fa"  textLength="18.5" lengthAdjust="spacingAndGlyphs">4”</text>
<text x="145.3" y="209.9" font-size="31" font-family="Liberation Serif, serif" fill="#fff" font-style="italic" textLength="40.3" lengthAdjust="spacingAndGlyphs">nZ</text>
<text x="397.3" y="220.3" font-size="31" font-family="Liberation Serif, serif" fill="#fff" font-style="italic" textLength="39.9" lengthAdjust="spacingAndGlyphs">nZ</text>
<text x="128.5" y="450" font-size="25" font-family="Liberation Serif, serif" fill="#333"  textLength="62.3" lengthAdjust="spacingAndGlyphs">R [m]</text>
<text x="380.8" y="457" font-size="26" font-family="Liberation Serif, serif" fill="#333"  textLength="64.6" lengthAdjust="spacingAndGlyphs">R [m]</text>
<text transform="translate(19.4,214.8) rotate(-90)" font-size="26" font-family="Liberation Serif, serif" fill="#333" text-anchor="middle" textLength="116" lengthAdjust="spacingAndGlyphs">Height [m]</text>
<rect x="187.3" y="340.5" width="17.5" height="48.1" fill="url(#jet)" stroke="#fff" stroke-width="1.1"/>
<text x="211.3" y="362.2" font-size="16.3" font-family="Liberation Sans, sans-serif" fill="#fff" text-anchor="start" >5</text>
<text x="211.3" y="393.8" font-size="16.3" font-family="Liberation Sans, sans-serif" fill="#fff" text-anchor="start" >0</text>
<text x="205.3" y="331.2" font-size="19" font-family="Liberation Sans, sans-serif" fill="#e8e8ff">×</text>
<text x="219.6" y="328.5" font-size="16.3" font-family="Liberation Sans, sans-serif" fill="#fff">10</text>
<text x="238.6" y="320" font-size="12" font-family="Liberation Sans, sans-serif" fill="#fff">17</text>
<rect x="442" y="351" width="18.5" height="39.3" fill="url(#jet)" stroke="#fff" stroke-width="1.1"/>
<text x="467" y="360" font-size="16.3" font-family="Liberation Sans, sans-serif" fill="#fff" text-anchor="start" >5</text>
<text x="467" y="396.2" font-size="16.3" font-family="Liberation Sans, sans-serif" fill="#fff" text-anchor="start" >0</text>
<text x="461.3" y="341.7" font-size="19" font-family="Liberation Sans, sans-serif" fill="#e8e8ff">×</text>
<text x="475" y="339.2" font-size="16.3" font-family="Liberation Sans, sans-serif" fill="#fff">10</text>
<text x="494" y="330.5" font-size="12" font-family="Liberation Sans, sans-serif" fill="#fff">17</text>
<rect x="71.2" y="481.2" width="438.8" height="140.1" fill="#fff" stroke="#262626" stroke-width="0.9"/>
<path d="M71.2 621.3v-4.5M71.2 481.2v4.5M180.9 621.3v-4.5M180.9 481.2v4.5M290.6 621.3v-4.5M290.6 481.2v4.5M400.3 621.3v-4.5M400.3 481.2v4.5M510 621.3v-4.5M510 481.2v4.5M71.2 481.2h4.5M510 481.2h-4.5M71.2 516.225h4.5M510 516.225h-4.5M71.2 551.25h4.5M510 551.25h-4.5M71.2 586.275h4.5M510 586.275h-4.5M71.2 621.3h4.5M510 621.3h-4.5" stroke="#262626" stroke-width="0.9" fill="none"/>
<clipPath id="cc"><rect x="71.2" y="479" width="439.4" height="144.5"/></clipPath>
<path d="M78.2 551.25H510" stroke="#333" stroke-width="1.1" stroke-dasharray="1.3 5.5" fill="none"/>
<g clip-path="url(#cc)">
<polyline points="71.2,482.0 94.3,482.0 117.4,482.0 140.5,482.0 163.6,482.0 186.7,482.3 209.8,484.0 232.9,490.2 256.0,503.7 279.1,517.9 302.1,520.6 325.2,509.5 348.3,486.7 371.4,481.5 394.5,481.5 417.6,483.0 440.7,486.0 463.8,497.0 486.9,489.0 510.0,516.0" fill="none" stroke="#0072bd" stroke-width="3" stroke-linejoin="round" stroke-linecap="butt"/>
<polyline points="71.2,618.0 94.3,618.0 117.4,617.5 140.5,617.0 163.6,616.5 186.7,615.5 209.8,612.5 232.9,609.0 256.0,605.5 279.1,601.5 302.1,597.0 325.2,588.5 348.3,564.2 371.4,502.3 394.5,482.0 417.6,485.0 440.7,491.5 463.8,497.0 486.9,489.0 510.0,527.7" fill="none" stroke="#d95319" stroke-width="3" stroke-linejoin="round" stroke-linecap="butt"/>
<polyline points="71.2,618.0 94.3,617.8 117.4,617.5 140.5,617.2 163.6,617.0 186.7,616.5 209.8,615.0 232.9,613.5 256.0,612.0 279.1,611.0 302.1,610.5 325.2,609.5 348.3,609.0 371.4,608.7 394.5,610.0 417.6,611.9 440.7,564.2 463.8,497.0 486.9,488.3 510.0,548.8" fill="none" stroke="#edb120" stroke-width="3" stroke-linejoin="round" stroke-linecap="butt"/>
<polyline points="71.2,619.5 94.3,619.5 117.4,619.4 140.5,619.2 163.6,619.0 186.7,618.5 209.8,618.0 232.9,617.3 256.0,616.5 279.1,615.4 302.1,610.0 325.2,595.2 348.3,527.0 371.4,483.0 394.5,482.0 417.6,482.3 440.7,483.0 463.8,488.3 486.9,484.4 510.0,579.6" fill="none" stroke="#7e2f8e" stroke-width="3" stroke-linejoin="round" stroke-linecap="butt"/>
<polyline points="71.0,616.7 120.0,615.0 165.0,613.3 190.0,610.5 217.0,603.3 243.9,596.5 270.8,591.2 289.6,587.0 305.8,580.4 319.2,572.3 330.0,560.2 334.2,557.0 347.7,527.9 362.5,494.2 370.0,487.0 377.3,483.5 390.8,481.6 420.0,483.3 448.8,484.4 464.2,490.2 479.6,500.8 489.2,499.8 510.0,504.6" fill="none" stroke="#000" stroke-width="6.4" stroke-linejoin="round" stroke-linecap="butt"/>
</g>
<text x="66.8" y="486.1" font-size="13.8" font-family="Liberation Sans, sans-serif" fill="#262626" text-anchor="end" >1</text>
<text x="66.8" y="521.125" font-size="13.8" font-family="Liberation Sans, sans-serif" fill="#262626" text-anchor="end" >0.5</text>
<text x="66.8" y="556.15" font-size="13.8" font-family="Liberation Sans, sans-serif" fill="#262626" text-anchor="end" >0</text>
<text x="66.8" y="591.175" font-size="13.8" font-family="Liberation Sans, sans-serif" fill="#262626" text-anchor="end" >-0.5</text>
<text x="66.8" y="626.2" font-size="13.8" font-family="Liberation Sans, sans-serif" fill="#262626" text-anchor="end" >-1</text>
<text x="71.2" y="638" font-size="13.8" font-family="Liberation Sans, sans-serif" fill="#262626" text-anchor="middle" >0.8</text>
<text x="180.9" y="638" font-size="13.8" font-family="Liberation Sans, sans-serif" fill="#262626" text-anchor="middle" >0.85</text>
<text x="290.6" y="638" font-size="13.8" font-family="Liberation Sans, sans-serif" fill="#262626" text-anchor="middle" >0.9</text>
<text x="400.3" y="638" font-size="13.8" font-family="Liberation Sans, sans-serif" fill="#262626" text-anchor="middle" >0.95</text>
<text x="510" y="638" font-size="13.8" font-family="Liberation Sans, sans-serif" fill="#262626" text-anchor="middle" >1</text>
<text x="82.4" y="476" font-size="16" font-family="Liberation Serif, serif" fill="#222"  textLength="17.9" lengthAdjust="spacingAndGlyphs">(c)</text>
<text x="82.4" y="507.5" font-size="17" font-family="Liberation Serif, serif" fill="#222"  textLength="18.4" lengthAdjust="spacingAndGlyphs">up</text>
<text x="80" y="606.5" font-size="17" font-family="Liberation Serif, serif" fill="#222"  textLength="40.4" lengthAdjust="spacingAndGlyphs">down</text>
<text transform="translate(32.6,551) rotate(-90)" font-size="22" font-family="Liberation Serif, serif" fill="#222" text-anchor="middle" textLength="79" lengthAdjust="spacingAndGlyphs">up-down</text>
<rect x="71.2" y="663.3" width="436.4" height="137.7" fill="#fff" stroke="#262626" stroke-width="0.9"/>
<path d="M71.2 801v-4.5M71.2 663.3v4.5M180.3 801v-4.5M180.3 663.3v4.5M289.4 801v-4.5M289.4 663.3v4.5M398.5 801v-4.5M398.5 663.3v4.5M507.6 801v-4.5M507.6 663.3v4.5M71.2 663.3h4.5M507.6 663.3h-4.5M71.2 697.725h4.5M507.6 697.725h-4.5M71.2 732.15h4.5M507.6 732.15h-4.5M71.2 766.575h4.5M507.6 766.575h-4.5M71.2 801h4.5M507.6 801h-4.5" stroke="#262626" stroke-width="0.9" fill="none"/>
<clipPath id="cd"><rect x="71.2" y="661.1" width="437" height="142.1"/></clipPath>
<path d="M78.2 732.15H507.6" stroke="#333" stroke-width="1.1" stroke-dasharray="1.3 5.5" fill="none"/>
<g clip-path="url(#cd)">
<polyline points="71.2,722.2 94.2,726.7 117.1,728.6 140.1,726.5 163.1,721.5 186.0,714.5 209.0,707.9 232.0,690.4 254.9,677.0 277.9,669.4 300.9,668.8 323.9,675.0 346.8,706.0 369.8,733.5 392.8,745.6 415.7,753.7 438.7,759.0 461.7,765.4 484.6,775.0 507.6,782.0" fill="none" stroke="#0072bd" stroke-width="3" stroke-linejoin="round" stroke-linecap="butt"/>
<polyline points="71.2,710.6 94.2,709.0 117.1,707.3 140.1,705.4 163.1,703.3 186.0,700.8 209.0,697.2 232.0,692.6 254.9,689.0 277.9,685.0 300.9,680.5 323.9,672.9 346.8,665.6 369.8,685.0 392.8,725.4 415.7,753.7 438.7,774.4 461.7,771.0 484.6,768.0 507.6,780.0" fill="none" stroke="#d95319" stroke-width="3" stroke-linejoin="round" stroke-linecap="butt"/>
<polyline points="71.2,714.6 94.2,713.5 117.1,712.3 140.1,711.0 163.1,709.5 186.0,707.5 209.0,705.2 232.0,701.5 254.9,698.5 277.9,696.5 300.9,695.0 323.9,693.0 346.8,692.5 369.8,690.4 392.8,703.9 415.7,763.0 438.7,794.0 461.7,772.0 484.6,764.4 507.6,782.7" fill="none" stroke="#edb120" stroke-width="3" stroke-linejoin="round" stroke-linecap="butt"/>
<polyline points="71.2,718.7 94.2,718.0 117.1,717.2 140.1,716.0 163.1,714.5 186.0,713.0 209.0,711.5 232.0,709.3 254.9,706.5 277.9,703.8 300.9,697.0 323.9,678.3 346.8,666.2 369.8,728.0 392.8,751.0 415.7,756.4 438.7,762.5 461.7,759.6 484.6,760.6 507.6,775.0" fill="none" stroke="#7e2f8e" stroke-width="3" stroke-linejoin="round" stroke-linecap="butt"/>
<polyline points="70.8,706.0 113.8,701.0 154.0,698.0 181.0,694.4 200.0,690.4 217.0,686.3 243.9,679.6 270.8,675.6 297.7,671.5 316.5,666.7 334.2,663.2 347.7,664.8 363.9,685.0 377.3,706.5 390.8,724.0 404.2,736.2 417.7,745.6 437.3,757.7 450.8,761.5 463.3,767.3 477.7,780.8 492.0,782.7 507.6,767.0" fill="none" stroke="#000" stroke-width="6.4" stroke-linejoin="round" stroke-linecap="butt"/>
</g>
<text x="66.8" y="668.2" font-size="13.8" font-family="Liberation Sans, sans-serif" fill="#262626" text-anchor="end" >1</text>
<text x="66.8" y="702.625" font-size="13.8" font-family="Liberation Sans, sans-serif" fill="#262626" text-anchor="end" >0.5</text>
<text x="66.8" y="737.05" font-size="13.8" font-family="Liberation Sans, sans-serif" fill="#262626" text-anchor="end" >0</text>
<text x="66.8" y="771.475" font-size="13.8" font-family="Liberation Sans, sans-serif" fill="#262626" text-anchor="end" >-0.5</text>
<text x="66.8" y="805.9" font-size="13.8" font-family="Liberation Sans, sans-serif" fill="#262626" text-anchor="end" >-1</text>
<text x="71.2" y="817.8" font-size="13.8" font-family="Liberation Sans, sans-serif" fill="#262626" text-anchor="middle" >0.8</text>
<text x="180.3" y="817.8" font-size="13.8" font-family="Liberation Sans, sans-serif" fill="#262626" text-anchor="middle" >0.85</text>
<text x="289.4" y="817.8" font-size="13.8" font-family="Liberation Sans, sans-serif" fill="#262626" text-anchor="middle" >0.9</text>
<text x="398.5" y="817.8" font-size="13.8" font-family="Liberation Sans, sans-serif" fill="#262626" text-anchor="middle" >0.95</text>
<text x="507.6" y="817.8" font-size="13.8" font-family="Liberation Sans, sans-serif" fill="#262626" text-anchor="middle" >1</text>
<text x="85" y="658.7" font-size="16" font-family="Liberation Serif, serif" fill="#222"  textLength="20" lengthAdjust="spacingAndGlyphs">(d)</text>
<text x="81" y="685.7" font-size="17" font-family="Liberation Serif, serif" fill="#222"  textLength="24.8" lengthAdjust="spacingAndGlyphs">out</text>
<text x="82.9" y="790" font-size="17" font-family="Liberation Serif, serif" fill="#222"  textLength="14.3" lengthAdjust="spacingAndGlyphs">in</text>
<text transform="translate(32.6,731) rotate(-90)" font-size="22" font-family="Liberation Serif, serif" fill="#222" text-anchor="middle" textLength="52" lengthAdjust="spacingAndGlyphs">in-out</text>
<rect x="67.5" y="848.3" width="437" height="141.3" fill="#fff" stroke="#262626" stroke-width="0.9"/>
<path d="M67.5 989.6v-4.5M67.5 848.3v4.5M176.75 989.6v-4.5M176.75 848.3v4.5M286 989.6v-4.5M286 848.3v4.5M395.25 989.6v-4.5M395.25 848.3v4.5M504.5 989.6v-4.5M504.5 848.3v4.5M67.5 848.3h4.5M504.5 848.3h-4.5M67.5 883.625h4.5M504.5 883.625h-4.5M67.5 918.95h4.5M504.5 918.95h-4.5M67.5 954.275h4.5M504.5 954.275h-4.5M67.5 989.6h4.5M504.5 989.6h-4.5" stroke="#262626" stroke-width="0.9" fill="none"/>
<clipPath id="ce"><rect x="67.5" y="846.1" width="437.6" height="145.7"/></clipPath>
<g clip-path="url(#ce)">
<polyline points="67.5,968.7 90.5,963.0 113.5,956.3 136.5,948.2 159.5,941.3 182.5,937.0 205.5,935.3 228.5,934.3 251.5,933.7 274.5,934.4 297.5,941.0 320.5,952.5 343.5,966.5 366.5,974.6 389.5,972.5 412.5,974.6 435.5,979.5 458.5,981.7 481.5,979.0 504.5,983.6" fill="none" stroke="#d95319" stroke-width="3.2" stroke-linejoin="round" stroke-linecap="butt"/>
<polyline points="67.5,963.3 90.5,964.0 113.5,965.2 136.5,966.8 159.5,969.3 182.5,972.0 205.5,975.0 228.5,978.0 251.5,981.0 274.5,983.3 297.5,986.0 320.5,987.7 343.5,988.7 366.5,989.2 389.5,989.3 412.5,989.3 435.5,989.3 458.5,989.3 481.5,989.3 504.5,989.3" fill="none" stroke="#edb120" stroke-width="3.2" stroke-linejoin="round" stroke-linecap="butt"/>
<polyline points="67.5,987.2 90.5,988.0 113.5,988.6 136.5,989.0 159.5,989.2 182.5,989.3 205.5,989.3 228.5,989.3 251.5,989.3 274.5,989.3 297.5,989.3 320.5,989.3 343.5,989.3 366.5,989.3 389.5,989.3 412.5,989.3 435.5,989.3 458.5,989.3 481.5,989.3 504.5,989.3" fill="none" stroke="#7e2f8e" stroke-width="3.2" stroke-linejoin="round" stroke-linecap="butt"/>
<polyline points="67.5,988.6 90.5,988.2 113.5,987.5 136.5,986.6 159.5,985.6 182.5,984.5 205.5,983.5 228.5,982.0 251.5,979.5 274.5,976.0 297.5,970.6 320.5,964.5 343.5,955.8 366.5,932.9 389.5,914.0 412.5,910.5 435.5,926.2 458.5,912.5 481.5,876.2 504.5,931.2" fill="none" stroke="#0072bd" stroke-width="3.2" stroke-linejoin="round" stroke-linecap="butt"/>
<polyline points="67.5,941.8 87.0,937.0 113.8,930.2 140.8,919.4 162.3,911.4 181.2,906.8 200.0,905.4 211.5,904.0 230.4,901.4 249.2,895.2 270.8,889.8 287.0,888.5 300.4,889.8 313.9,895.2 326.2,903.0 343.7,918.0 358.5,923.5 374.6,914.0 390.8,904.6 402.9,900.6 415.0,899.8 428.5,904.0 445.5,909.6 459.3,906.6 474.0,877.2 489.7,869.3 504.5,904.7" fill="none" stroke="#000" stroke-width="7" stroke-linejoin="round" stroke-linecap="butt"/>
</g>
<text x="64.2" y="853.2" font-size="13.8" font-family="Liberation Sans, sans-serif" fill="#262626" text-anchor="end" >8</text>
<text x="64.2" y="888.525" font-size="13.8" font-family="Liberation Sans, sans-serif" fill="#262626" text-anchor="end" >6</text>
<text x="64.2" y="923.85" font-size="13.8" font-family="Liberation Sans, sans-serif" fill="#262626" text-anchor="end" >4</text>
<text x="64.2" y="959.175" font-size="13.8" font-family="Liberation Sans, sans-serif" fill="#262626" text-anchor="end" >2</text>
<text x="64.2" y="994.5" font-size="13.8" font-family="Liberation Sans, sans-serif" fill="#262626" text-anchor="end" >0</text>
<text x="67.5" y="1006" font-size="13.8" font-family="Liberation Sans, sans-serif" fill="#262626" text-anchor="middle" >0.8</text>
<text x="176.75" y="1006" font-size="13.8" font-family="Liberation Sans, sans-serif" fill="#262626" text-anchor="middle" >0.85</text>
<text x="286" y="1006" font-size="13.8" font-family="Liberation Sans, sans-serif" fill="#262626" text-anchor="middle" >0.9</text>
<text x="395.25" y="1006" font-size="13.8" font-family="Liberation Sans, sans-serif" fill="#262626" text-anchor="middle" >0.95</text>
<text x="504.5" y="1006" font-size="13.8" font-family="Liberation Sans, sans-serif" fill="#262626" text-anchor="middle" >1</text>
<text x="68.3" y="845.8" font-size="15" font-family="Liberation Sans, sans-serif" fill="#262626">×</text>
<text x="77.3" y="844.3" font-size="13.8" font-family="Liberation Sans, sans-serif" fill="#262626">10</text>
<text x="94.6" y="838" font-size="11" font-family="Liberation Sans, sans-serif" fill="#262626">15</text>
<text x="80" y="868.7" font-size="16" font-family="Liberation Serif, serif" fill="#222"  textLength="19" lengthAdjust="spacingAndGlyphs">(e)</text>
<text transform="translate(47,919) rotate(-90)" font-size="20" font-family="Liberation Serif, DejaVu Serif, DejaVu Sans, serif" fill="#777" text-anchor="middle" textLength="51" lengthAdjust="spacingAndGlyphs">⟨|<tspan font-style="italic">δn</tspan>|⟩</text>
<text x="273.2" y="1026.7" font-size="21" font-family="Liberation Serif, DejaVu Serif, serif" fill="#555" font-style="italic" textLength="15" lengthAdjust="spacingAndGlyphs">ψ</text><text x="288.3" y="1030.3" font-size="15" font-family="Liberation Serif, DejaVu Serif, serif" fill="#555" font-style="italic" textLength="9.5" lengthAdjust="spacingAndGlyphs">n</text>
</svg>
</body></html>
